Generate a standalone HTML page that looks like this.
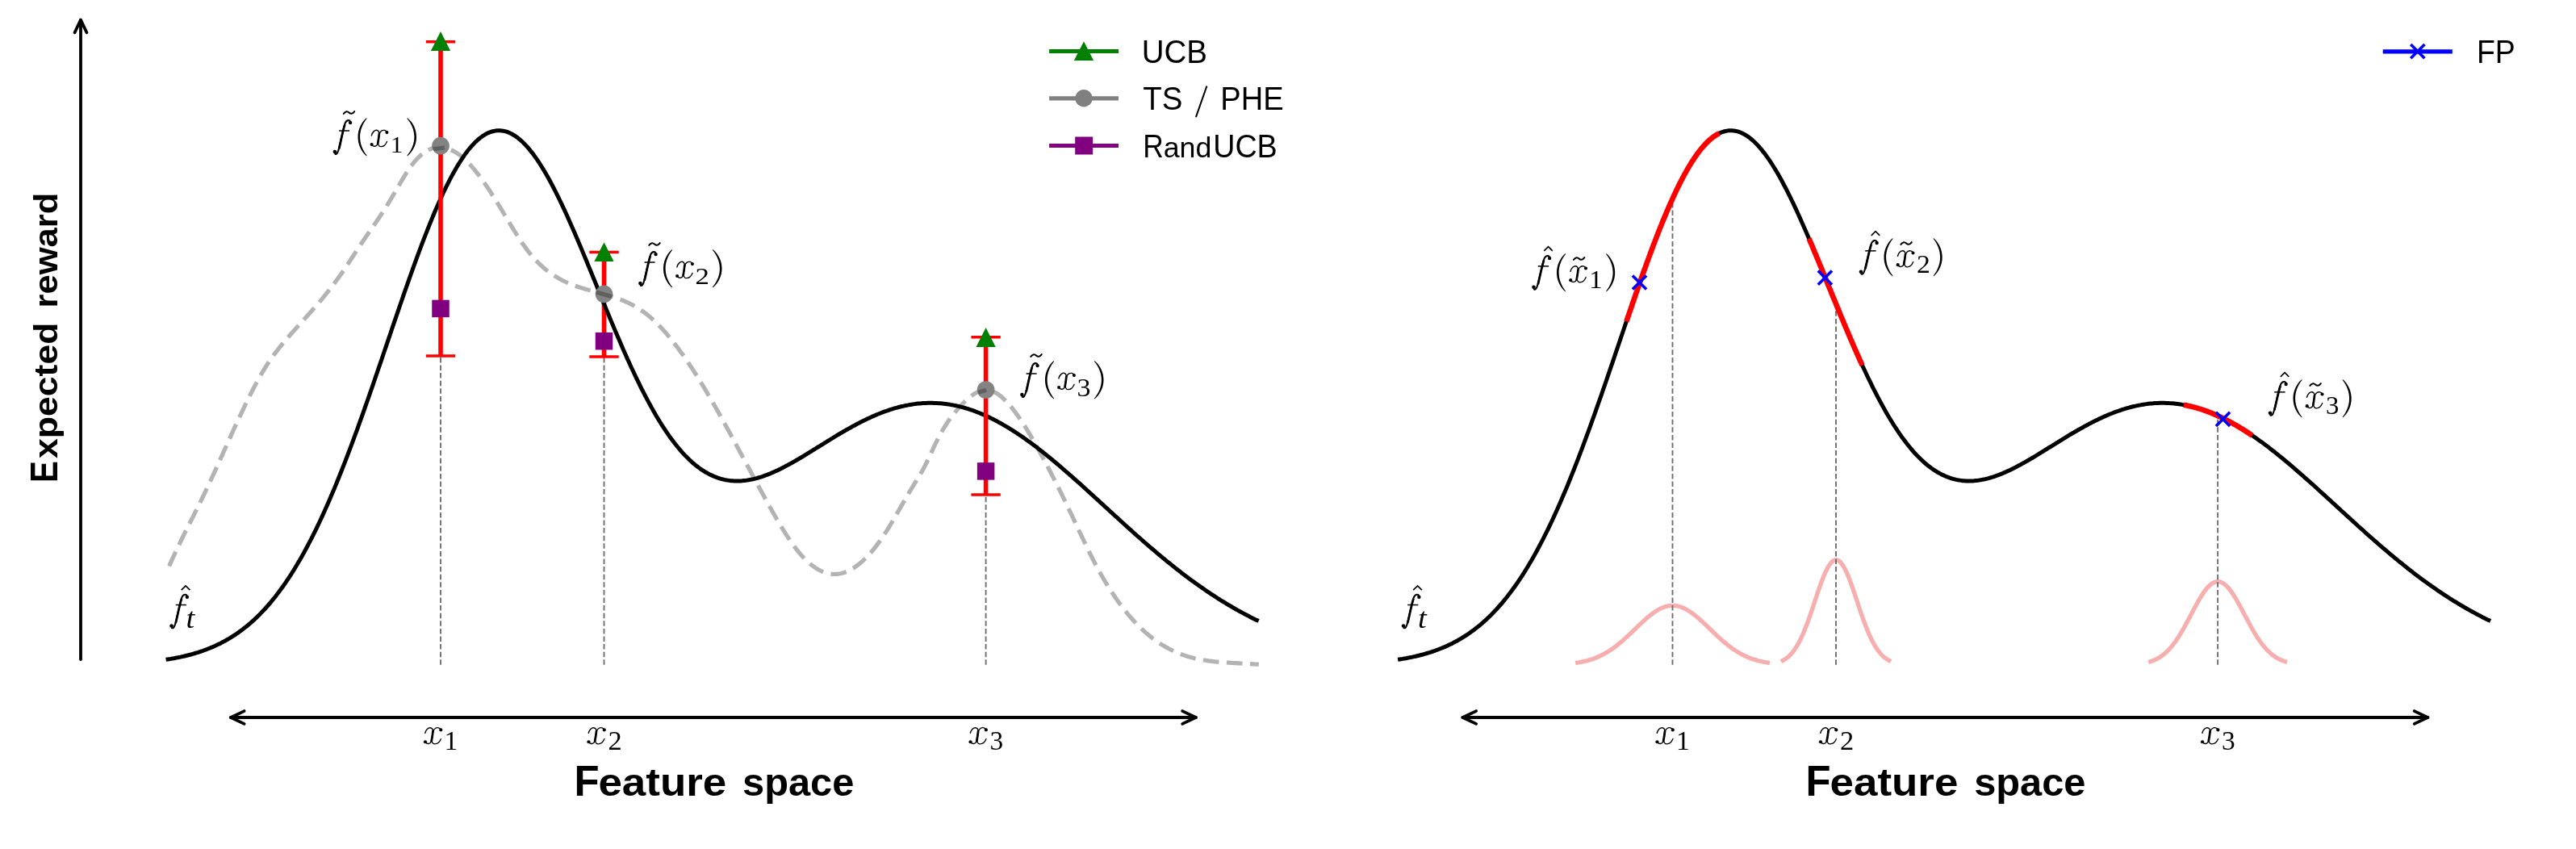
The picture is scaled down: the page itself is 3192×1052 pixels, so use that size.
<!DOCTYPE html><html><head><meta charset="utf-8"><style>html,body{margin:0;padding:0;background:#fff;}svg{display:block;} text{font-kerning:none;}</style></head><body>
<svg width="3192" height="1052" viewBox="0 0 3192 1052">
<rect width="3192" height="1052" fill="#fff"/>
<g stroke="#000" stroke-width="3.8" fill="none" stroke-linecap="round" stroke-linejoin="round">
<path d="M100,817 L100,25"/><path d="M92.6,40.3 L100,24.6 L107.4,40.3"/>
<path d="M285.8,889 L1482,889"/>
<path d="M302.6,881.1 L286,889 L302.6,896.9"/>
<path d="M1465.2,881.1 L1481.8,889 L1465.2,896.9"/>
<path d="M1812.3,889 L3008.5,889"/>
<path d="M1829.1,881.1 L1812.5,889 L1829.1,896.9"/>
<path d="M2991.7,881.1 L3008.3,889 L2991.7,896.9"/>
</g>
<path d="M546.0,823.8 L546.0,440.9" stroke="#6e6e6e" stroke-width="1.9" stroke-dasharray="6.5,3.1" fill="none"/>
<path d="M748.5,823.8 L748.5,442.0" stroke="#6e6e6e" stroke-width="1.9" stroke-dasharray="6.5,3.1" fill="none"/>
<path d="M1221.6,823.8 L1221.6,613.0" stroke="#6e6e6e" stroke-width="1.9" stroke-dasharray="6.5,3.1" fill="none"/>
<path d="M209.0,703.0 L211.0,698.4 L213.0,693.9 L215.0,689.5 L217.0,685.2 L219.0,680.9 L221.0,676.7 L223.0,672.6 L225.0,668.5 L227.0,664.4 L229.0,660.4 L231.0,656.4 L233.0,652.4 L235.0,648.5 L237.0,644.5 L239.0,640.6 L241.0,636.6 L243.0,632.6 L245.0,628.6 L247.0,624.6 L249.0,620.6 L251.0,616.5 L253.0,612.3 L255.0,608.2 L257.0,603.9 L259.0,599.7 L261.0,595.4 L263.0,591.0 L265.0,586.7 L267.0,582.3 L269.0,577.9 L271.0,573.5 L273.0,569.0 L275.0,564.6 L277.0,560.2 L279.0,555.7 L281.0,551.3 L283.0,546.8 L285.0,542.4 L287.0,537.9 L289.0,533.5 L291.0,529.1 L293.0,524.7 L295.1,520.4 L297.1,516.1 L299.1,511.8 L301.1,507.6 L303.1,503.4 L305.1,499.2 L307.1,495.1 L309.1,491.1 L311.1,487.1 L313.1,483.2 L315.1,479.4 L317.1,475.6 L319.1,471.9 L321.1,468.3 L323.1,464.8 L325.1,461.4 L327.1,458.1 L329.1,454.8 L331.1,451.7 L333.1,448.7 L335.1,445.8 L337.1,442.9 L339.1,440.1 L341.1,437.4 L343.1,434.8 L345.1,432.2 L347.1,429.7 L349.1,427.2 L351.1,424.8 L353.1,422.4 L355.1,420.1 L357.1,417.8 L359.1,415.5 L361.1,413.2 L363.1,411.0 L365.1,408.8 L367.1,406.5 L369.1,404.3 L371.1,402.1 L373.1,399.9 L375.1,397.7 L377.1,395.4 L379.1,393.2 L381.1,391.0 L383.1,388.8 L385.1,386.5 L387.1,384.2 L389.1,382.0 L391.1,379.7 L393.1,377.4 L395.1,375.0 L397.1,372.7 L399.1,370.3 L401.1,367.9 L403.1,365.4 L405.1,362.9 L407.1,360.4 L409.1,357.9 L411.1,355.3 L413.1,352.7 L415.1,350.0 L417.1,347.3 L419.1,344.5 L421.1,341.7 L423.1,338.9 L425.1,336.0 L427.1,333.0 L429.1,330.1 L431.1,327.1 L433.1,324.1 L435.1,321.0 L437.1,318.0 L439.1,314.9 L441.1,311.9 L443.1,308.9 L445.1,305.8 L447.1,302.8 L449.1,299.8 L451.1,296.9 L453.1,293.9 L455.1,291.0 L457.1,288.1 L459.1,285.2 L461.1,282.3 L463.2,279.4 L465.2,276.4 L467.2,273.5 L469.2,270.5 L471.2,267.6 L473.2,264.5 L475.2,261.5 L477.2,258.4 L479.2,255.2 L481.2,252.0 L483.2,248.7 L485.2,245.3 L487.2,241.9 L489.2,238.5 L491.2,235.1 L493.2,231.6 L495.2,228.2 L497.2,224.8 L499.2,221.4 L501.2,218.1 L503.2,214.9 L505.2,211.9 L507.2,208.9 L509.2,206.0 L511.2,203.4 L513.2,200.9 L515.2,198.5 L517.2,196.4 L519.2,194.4 L521.2,192.5 L523.2,190.8 L525.2,189.3 L527.2,188.0 L529.2,186.7 L531.2,185.7 L533.2,184.8 L535.2,184.0 L537.2,183.4 L539.2,183.0 L541.2,182.6 L543.2,182.5 L545.2,182.4 L547.2,182.5 L549.2,182.7 L551.2,183.1 L553.2,183.6 L555.2,184.2 L557.2,184.9 L559.2,185.8 L561.2,186.8 L563.2,187.8 L565.2,189.1 L567.2,190.4 L569.2,191.8 L571.2,193.4 L573.2,195.0 L575.2,196.8 L577.2,198.6 L579.2,200.6 L581.2,202.7 L583.2,204.8 L585.2,207.1 L587.2,209.4 L589.2,211.8 L591.2,214.4 L593.2,216.9 L595.2,219.6 L597.2,222.3 L599.2,225.1 L601.2,228.0 L603.2,230.9 L605.2,233.9 L607.2,237.0 L609.2,240.1 L611.2,243.2 L613.2,246.4 L615.2,249.6 L617.2,252.8 L619.2,256.1 L621.2,259.4 L623.2,262.8 L625.2,266.1 L627.2,269.4 L629.2,272.8 L631.3,276.1 L633.3,279.4 L635.3,282.7 L637.3,286.0 L639.3,289.2 L641.3,292.4 L643.3,295.5 L645.3,298.5 L647.3,301.5 L649.3,304.3 L651.3,307.1 L653.3,309.8 L655.3,312.4 L657.3,314.9 L659.3,317.3 L661.3,319.6 L663.3,321.8 L665.3,323.9 L667.3,325.9 L669.3,327.8 L671.3,329.7 L673.3,331.5 L675.3,333.2 L677.3,334.8 L679.3,336.3 L681.3,337.8 L683.3,339.3 L685.3,340.6 L687.3,341.9 L689.3,343.1 L691.3,344.3 L693.3,345.5 L695.3,346.5 L697.3,347.6 L699.3,348.5 L701.3,349.5 L703.3,350.4 L705.3,351.2 L707.3,352.1 L709.3,352.9 L711.3,353.6 L713.3,354.3 L715.3,355.0 L717.3,355.7 L719.3,356.4 L721.3,357.0 L723.3,357.6 L725.3,358.2 L727.3,358.8 L729.3,359.3 L731.3,359.9 L733.3,360.4 L735.3,361.0 L737.3,361.5 L739.3,362.0 L741.3,362.6 L743.3,363.1 L745.3,363.6 L747.3,364.2 L749.3,364.7 L751.3,365.3 L753.3,365.9 L755.3,366.5 L757.3,367.1 L759.3,367.7 L761.3,368.4 L763.3,369.1 L765.3,369.8 L767.3,370.5 L769.3,371.3 L771.3,372.1 L773.3,372.9 L775.3,373.8 L777.3,374.7 L779.3,375.6 L781.3,376.6 L783.3,377.6 L785.3,378.7 L787.3,379.9 L789.3,381.1 L791.3,382.3 L793.3,383.6 L795.3,385.0 L797.3,386.4 L799.3,387.9 L801.4,389.4 L803.4,391.0 L805.4,392.7 L807.4,394.4 L809.4,396.2 L811.4,398.1 L813.4,400.1 L815.4,402.0 L817.4,404.1 L819.4,406.2 L821.4,408.4 L823.4,410.6 L825.4,412.9 L827.4,415.3 L829.4,417.7 L831.4,420.1 L833.4,422.6 L835.4,425.2 L837.4,427.8 L839.4,430.4 L841.4,433.1 L843.4,435.9 L845.4,438.6 L847.4,441.5 L849.4,444.4 L851.4,447.3 L853.4,450.3 L855.4,453.3 L857.4,456.3 L859.4,459.4 L861.4,462.5 L863.4,465.7 L865.4,468.9 L867.4,472.1 L869.4,475.3 L871.4,478.6 L873.4,482.0 L875.4,485.3 L877.4,488.7 L879.4,492.1 L881.4,495.6 L883.4,499.0 L885.4,502.5 L887.4,506.0 L889.4,509.6 L891.4,513.1 L893.4,516.7 L895.4,520.3 L897.4,523.9 L899.4,527.5 L901.4,531.2 L903.4,534.8 L905.4,538.5 L907.4,542.2 L909.4,545.9 L911.4,549.5 L913.4,553.3 L915.4,557.0 L917.4,560.7 L919.4,564.4 L921.4,568.1 L923.4,571.9 L925.4,575.6 L927.4,579.3 L929.4,583.0 L931.4,586.8 L933.4,590.5 L935.4,594.2 L937.4,597.9 L939.4,601.6 L941.4,605.3 L943.4,609.0 L945.4,612.6 L947.4,616.3 L949.4,619.9 L951.4,623.5 L953.4,627.2 L955.4,630.7 L957.4,634.3 L959.4,637.8 L961.4,641.3 L963.4,644.8 L965.4,648.2 L967.4,651.6 L969.5,654.9 L971.5,658.1 L973.5,661.3 L975.5,664.4 L977.5,667.5 L979.5,670.4 L981.5,673.3 L983.5,676.1 L985.5,678.8 L987.5,681.4 L989.5,683.9 L991.5,686.3 L993.5,688.5 L995.5,690.7 L997.5,692.8 L999.5,694.8 L1001.5,696.6 L1003.5,698.4 L1005.5,700.0 L1007.5,701.5 L1009.5,702.9 L1011.5,704.3 L1013.5,705.5 L1015.5,706.5 L1017.5,707.5 L1019.5,708.4 L1021.5,709.2 L1023.5,709.8 L1025.5,710.4 L1027.5,710.8 L1029.5,711.1 L1031.5,711.3 L1033.5,711.4 L1035.5,711.4 L1037.5,711.3 L1039.5,711.0 L1041.5,710.7 L1043.5,710.2 L1045.5,709.6 L1047.5,709.0 L1049.5,708.2 L1051.5,707.3 L1053.5,706.3 L1055.5,705.2 L1057.5,704.0 L1059.5,702.7 L1061.5,701.2 L1063.5,699.7 L1065.5,698.1 L1067.5,696.4 L1069.5,694.6 L1071.5,692.7 L1073.5,690.7 L1075.5,688.6 L1077.5,686.4 L1079.5,684.2 L1081.5,681.8 L1083.5,679.3 L1085.5,676.8 L1087.5,674.1 L1089.5,671.4 L1091.5,668.6 L1093.5,665.7 L1095.5,662.8 L1097.5,659.7 L1099.5,656.6 L1101.5,653.3 L1103.5,650.0 L1105.5,646.7 L1107.5,643.3 L1109.5,639.9 L1111.5,636.4 L1113.5,632.9 L1115.5,629.4 L1117.5,625.9 L1119.5,622.4 L1121.5,618.9 L1123.5,615.5 L1125.5,612.0 L1127.5,608.6 L1129.5,605.3 L1131.5,602.1 L1133.5,598.8 L1135.5,595.6 L1137.5,592.3 L1139.6,589.0 L1141.6,585.6 L1143.6,582.0 L1145.6,578.2 L1147.6,574.3 L1149.6,570.2 L1151.6,566.0 L1153.6,561.7 L1155.6,557.4 L1157.6,553.2 L1159.6,549.0 L1161.6,545.0 L1163.6,541.1 L1165.6,537.4 L1167.6,533.8 L1169.6,530.4 L1171.6,527.2 L1173.6,524.1 L1175.6,521.1 L1177.6,518.3 L1179.6,515.7 L1181.6,513.1 L1183.6,510.7 L1185.6,508.3 L1187.6,506.0 L1189.6,503.8 L1191.6,501.6 L1193.6,499.5 L1195.6,497.5 L1197.6,495.6 L1199.6,493.8 L1201.6,492.1 L1203.6,490.6 L1205.6,489.1 L1207.6,487.8 L1209.6,486.7 L1211.6,485.6 L1213.6,484.8 L1215.6,484.1 L1217.6,483.6 L1219.6,483.3 L1221.6,483.2 L1223.6,483.3 L1225.6,483.5 L1227.6,484.0 L1229.6,484.7 L1231.6,485.5 L1233.6,486.6 L1235.6,487.7 L1237.6,489.1 L1239.6,490.6 L1241.6,492.3 L1243.6,494.1 L1245.6,496.0 L1247.6,498.1 L1249.6,500.3 L1251.6,502.6 L1253.6,505.0 L1255.6,507.6 L1257.6,510.2 L1259.6,512.9 L1261.6,515.7 L1263.6,518.6 L1265.6,521.6 L1267.6,524.6 L1269.6,527.7 L1271.6,530.9 L1273.6,534.2 L1275.6,537.5 L1277.6,540.9 L1279.6,544.3 L1281.6,547.8 L1283.6,551.3 L1285.6,554.9 L1287.6,558.5 L1289.6,562.2 L1291.6,565.9 L1293.6,569.6 L1295.6,573.4 L1297.6,577.1 L1299.6,581.0 L1301.6,584.8 L1303.6,588.7 L1305.6,592.6 L1307.7,596.6 L1309.7,600.5 L1311.7,604.5 L1313.7,608.6 L1315.7,612.7 L1317.7,616.8 L1319.7,620.9 L1321.7,625.0 L1323.7,629.2 L1325.7,633.5 L1327.7,637.7 L1329.7,641.9 L1331.7,646.2 L1333.7,650.5 L1335.7,654.7 L1337.7,659.0 L1339.7,663.2 L1341.7,667.4 L1343.7,671.6 L1345.7,675.8 L1347.7,679.9 L1349.7,684.0 L1351.7,688.0 L1353.7,692.0 L1355.7,695.8 L1357.7,699.7 L1359.7,703.4 L1361.7,707.1 L1363.7,710.7 L1365.7,714.2 L1367.7,717.6 L1369.7,721.0 L1371.7,724.3 L1373.7,727.6 L1375.7,730.7 L1377.7,733.8 L1379.7,736.8 L1381.7,739.8 L1383.7,742.7 L1385.7,745.5 L1387.7,748.3 L1389.7,750.9 L1391.7,753.6 L1393.7,756.1 L1395.7,758.6 L1397.7,761.1 L1399.7,763.4 L1401.7,765.7 L1403.7,768.0 L1405.7,770.2 L1407.7,772.3 L1409.7,774.4 L1411.7,776.4 L1413.7,778.3 L1415.7,780.2 L1417.7,782.1 L1419.7,783.9 L1421.7,785.6 L1423.7,787.3 L1425.7,788.9 L1427.7,790.5 L1429.7,792.0 L1431.7,793.5 L1433.7,794.9 L1435.7,796.3 L1437.7,797.6 L1439.7,798.9 L1441.7,800.1 L1443.7,801.3 L1445.7,802.4 L1447.7,803.5 L1449.7,804.5 L1451.7,805.5 L1453.7,806.5 L1455.7,807.4 L1457.7,808.3 L1459.7,809.1 L1461.7,809.9 L1463.7,810.7 L1465.7,811.4 L1467.7,812.1 L1469.7,812.8 L1471.7,813.4 L1473.7,814.0 L1475.8,814.5 L1477.8,815.1 L1479.8,815.6 L1481.8,816.0 L1483.8,816.5 L1485.8,816.9 L1487.8,817.3 L1489.8,817.7 L1491.8,818.0 L1493.8,818.3 L1495.8,818.6 L1497.8,818.9 L1499.8,819.2 L1501.8,819.4 L1503.8,819.7 L1505.8,819.9 L1507.8,820.1 L1509.8,820.2 L1511.8,820.4 L1513.8,820.6 L1515.8,820.7 L1517.8,820.9 L1519.8,821.0 L1521.8,821.1 L1523.8,821.2 L1525.8,821.4 L1527.8,821.5 L1529.8,821.6 L1531.8,821.7 L1533.8,821.8 L1535.8,821.9 L1537.8,822.0 L1539.8,822.1 L1541.8,822.2 L1543.8,822.3 L1545.8,822.4 L1547.8,822.5 L1549.8,822.6 L1551.8,822.8 L1553.8,822.9 L1555.8,823.0 L1557.8,823.2 L1559.8,823.4" stroke="#b3b3b3" stroke-width="5.2" stroke-dasharray="19.60,9.54,19.60,9.54,19.60,9.54,19.60,9.54,19.60,9.54,19.60,9.54,19.60,9.54,19.60,9.54,19.60,9.54,19.60,9.54,19.60,9.54,19.60,9.54,19.60,9.54,19.60,9.54,19.60,9.54,19.60,9.54,19.60,9.54,19.60,9.54,19.60,9.54,19.60,9.52,19.60,9.52,19.60,9.52,19.60,9.52,19.60,9.52,19.60,9.52,19.60,9.52,19.60,9.52,19.60,9.52,19.60,9.52,19.60,9.52,19.60,9.52,19.60,9.52,19.60,9.52,19.60,9.52,19.60,9.52,19.60,9.52,19.60,9.64,19.60,9.64,19.60,9.64,19.60,9.64,19.60,9.64,19.60,9.64,19.60,9.64,19.60,9.64,19.60,9.64,19.60,9.64,19.60,9.64,19.60,9.64,19.60,9.40,19.60,9.40,19.60,9.40,19.60,9.40,19.60,9.40,19.60,9.40,19.60,9.48,19.60,9.48,19.60,9.48,19.60,9.48,19.60,9.48,19.60,9.48,19.60,9.48,19.60,9.48,19.60,9.48,19.60,9.56,19.60,9.56,19.60,9.56,19.60,9.56,19.60,9.56,19.60,9.56,19.60,9.56,19.60,9.56,19.60,9.56,19.60,9.56,19.60,9.56,19.60,9.56,19.60,9.56,19.60,9.56" stroke-dashoffset="27.54" fill="none" stroke-linecap="butt"/>
<path d="M748.5,312.6 L748.5,442.0" stroke="#ff0000" stroke-width="5.6" fill="none"/><path d="M730.3,312.6 L766.7,312.6 M730.3,442.0 L766.7,442.0" stroke="#ff0000" stroke-width="3.5" fill="none"/>
<path d="M205.6,817.3 L207.6,817.0 L209.6,816.7 L211.6,816.4 L213.6,816.0 L215.6,815.7 L217.6,815.3 L219.6,814.9 L221.6,814.5 L223.6,814.1 L225.6,813.6 L227.6,813.2 L229.6,812.7 L231.6,812.2 L233.6,811.7 L235.6,811.2 L237.6,810.7 L239.6,810.1 L241.6,809.5 L243.6,808.9 L245.6,808.3 L247.6,807.6 L249.6,807.0 L251.6,806.3 L253.6,805.5 L255.6,804.8 L257.6,804.0 L259.6,803.2 L261.6,802.4 L263.6,801.6 L265.6,800.7 L267.6,799.8 L269.6,798.8 L271.6,797.9 L273.6,796.9 L275.6,795.8 L277.6,794.8 L279.6,793.7 L281.6,792.5 L283.6,791.4 L285.6,790.2 L287.6,788.9 L289.6,787.6 L291.6,786.3 L293.6,785.0 L295.6,783.6 L297.6,782.1 L299.6,780.7 L301.6,779.1 L303.6,777.6 L305.6,776.0 L307.6,774.3 L309.6,772.6 L311.6,770.9 L313.6,769.1 L315.6,767.3 L317.6,765.4 L319.6,763.4 L321.6,761.5 L323.6,759.4 L325.6,757.3 L327.6,755.2 L329.6,753.0 L331.6,750.8 L333.6,748.5 L335.6,746.1 L337.6,743.7 L339.6,741.2 L341.6,738.7 L343.6,736.1 L345.6,733.5 L347.6,730.8 L349.6,728.0 L351.6,725.2 L353.6,722.4 L355.6,719.4 L357.6,716.4 L359.6,713.4 L361.6,710.2 L363.6,707.1 L365.6,703.8 L367.6,700.5 L369.6,697.1 L371.6,693.7 L373.6,690.2 L375.6,686.6 L377.6,683.0 L379.6,679.3 L381.6,675.5 L383.6,671.7 L385.6,667.8 L387.6,663.9 L389.6,659.9 L391.6,655.8 L393.6,651.7 L395.6,647.5 L397.6,643.2 L399.6,638.9 L401.6,634.5 L403.6,630.0 L405.6,625.5 L407.6,620.9 L409.6,616.3 L411.6,611.6 L413.6,606.9 L415.6,602.1 L417.6,597.2 L419.6,592.3 L421.6,587.3 L423.6,582.3 L425.6,577.2 L427.6,572.1 L429.6,566.9 L431.6,561.6 L433.6,556.4 L435.6,551.0 L437.6,545.7 L439.6,540.2 L441.6,534.8 L443.6,529.3 L445.6,523.7 L447.6,518.2 L449.6,512.6 L451.6,506.9 L453.6,501.2 L455.6,495.5 L457.6,489.8 L459.6,484.0 L461.6,478.3 L463.6,472.5 L465.6,466.6 L467.6,460.8 L469.6,454.9 L471.6,449.1 L473.6,443.2 L475.6,437.3 L477.6,431.4 L479.6,425.5 L481.6,419.6 L483.6,413.7 L485.6,407.8 L487.6,401.9 L489.6,396.1 L491.6,390.2 L493.6,384.4 L495.6,378.5 L497.6,372.7 L499.6,366.9 L501.6,361.2 L503.6,355.5 L505.6,349.8 L507.6,344.1 L509.6,338.5 L511.6,332.9 L513.6,327.4 L515.6,321.9 L517.6,316.4 L519.6,311.0 L521.6,305.7 L523.6,300.4 L525.6,295.2 L527.6,290.1 L529.6,285.0 L531.6,279.9 L533.6,275.0 L535.6,270.1 L537.6,265.3 L539.6,260.6 L541.6,256.0 L543.6,251.4 L545.6,247.0 L547.6,242.6 L549.6,238.3 L551.6,234.1 L553.6,230.1 L555.6,226.1 L557.6,222.2 L559.6,218.4 L561.6,214.7 L563.6,211.2 L565.6,207.7 L567.6,204.4 L569.6,201.2 L571.6,198.1 L573.6,195.1 L575.6,192.2 L577.6,189.4 L579.6,186.8 L581.6,184.3 L583.6,181.9 L585.6,179.7 L587.6,177.6 L589.6,175.6 L591.6,173.7 L593.6,172.0 L595.6,170.4 L597.6,168.9 L599.6,167.6 L601.6,166.4 L603.6,165.3 L605.6,164.4 L607.6,163.6 L609.6,163.0 L611.6,162.5 L613.6,162.1 L615.6,161.8 L617.6,161.7 L619.6,161.7 L621.6,161.9 L623.6,162.2 L625.6,162.6 L627.6,163.2 L629.6,163.9 L631.6,164.7 L633.6,165.7 L635.6,166.8 L637.6,168.0 L639.6,169.4 L641.6,170.8 L643.6,172.5 L645.6,174.2 L647.6,176.0 L649.6,178.0 L651.6,180.1 L653.6,182.3 L655.6,184.6 L657.6,187.1 L659.6,189.6 L661.6,192.3 L663.6,195.1 L665.6,197.9 L667.6,200.9 L669.6,204.0 L671.6,207.2 L673.6,210.4 L675.6,213.8 L677.6,217.3 L679.6,220.8 L681.6,224.5 L683.6,228.2 L685.6,232.0 L687.6,235.9 L689.6,239.8 L691.6,243.9 L693.6,248.0 L695.6,252.1 L697.6,256.4 L699.6,260.6 L701.6,265.0 L703.6,269.4 L705.6,273.9 L707.6,278.4 L709.6,282.9 L711.6,287.5 L713.6,292.2 L715.6,296.8 L717.6,301.6 L719.6,306.3 L721.6,311.1 L723.6,315.9 L725.6,320.7 L727.6,325.5 L729.6,330.4 L731.6,335.3 L733.6,340.1 L735.6,345.0 L737.6,349.9 L739.6,354.8 L741.6,359.7 L743.6,364.6 L745.6,369.5 L747.6,374.4 L749.6,379.2 L751.6,384.1 L753.6,388.9 L755.6,393.8 L757.6,398.6 L759.6,403.3 L761.6,408.1 L763.6,412.8 L765.6,417.5 L767.6,422.1 L769.6,426.8 L771.6,431.4 L773.6,435.9 L775.6,440.4 L777.6,444.9 L779.6,449.3 L781.6,453.7 L783.6,458.0 L785.6,462.2 L787.6,466.5 L789.6,470.6 L791.6,474.7 L793.6,478.8 L795.6,482.8 L797.6,486.7 L799.6,490.6 L801.6,494.4 L803.6,498.1 L805.6,501.8 L807.6,505.4 L809.6,509.0 L811.6,512.5 L813.6,515.9 L815.6,519.2 L817.6,522.5 L819.6,525.7 L821.6,528.9 L823.6,531.9 L825.6,534.9 L827.6,537.8 L829.6,540.7 L831.6,543.4 L833.6,546.1 L835.6,548.8 L837.6,551.3 L839.6,553.8 L841.6,556.2 L843.6,558.5 L845.6,560.8 L847.6,563.0 L849.6,565.1 L851.6,567.1 L853.6,569.1 L855.6,570.9 L857.6,572.8 L859.6,574.5 L861.6,576.2 L863.6,577.7 L865.6,579.3 L867.6,580.7 L869.6,582.1 L871.6,583.4 L873.6,584.7 L875.6,585.8 L877.6,586.9 L879.6,588.0 L881.6,588.9 L883.6,589.8 L885.6,590.7 L887.6,591.4 L889.6,592.2 L891.6,592.8 L893.6,593.4 L895.6,593.9 L897.6,594.4 L899.6,594.8 L901.6,595.1 L903.6,595.4 L905.6,595.7 L907.6,595.8 L909.6,596.0 L911.6,596.0 L913.6,596.0 L915.6,596.0 L917.6,595.9 L919.6,595.8 L921.6,595.6 L923.6,595.4 L925.6,595.1 L927.6,594.8 L929.6,594.4 L931.6,594.0 L933.6,593.6 L935.6,593.1 L937.6,592.6 L939.6,592.0 L941.6,591.4 L943.6,590.8 L945.6,590.1 L947.6,589.4 L949.6,588.7 L951.6,587.9 L953.6,587.1 L955.6,586.3 L957.6,585.4 L959.6,584.5 L961.6,583.6 L963.6,582.7 L965.6,581.7 L967.6,580.7 L969.6,579.7 L971.6,578.7 L973.6,577.6 L975.6,576.6 L977.6,575.5 L979.6,574.4 L981.6,573.3 L983.6,572.1 L985.6,571.0 L987.6,569.8 L989.6,568.7 L991.6,567.5 L993.6,566.3 L995.6,565.1 L997.6,563.9 L999.6,562.7 L1001.6,561.4 L1003.6,560.2 L1005.6,559.0 L1007.6,557.7 L1009.6,556.5 L1011.6,555.2 L1013.6,554.0 L1015.6,552.8 L1017.6,551.5 L1019.6,550.3 L1021.6,549.0 L1023.6,547.8 L1025.6,546.5 L1027.6,545.3 L1029.6,544.1 L1031.6,542.9 L1033.6,541.6 L1035.6,540.4 L1037.6,539.2 L1039.6,538.0 L1041.6,536.8 L1043.6,535.7 L1045.6,534.5 L1047.6,533.3 L1049.6,532.2 L1051.6,531.1 L1053.6,530.0 L1055.6,528.8 L1057.6,527.8 L1059.6,526.7 L1061.6,525.6 L1063.6,524.6 L1065.6,523.5 L1067.6,522.5 L1069.6,521.5 L1071.6,520.5 L1073.6,519.6 L1075.6,518.6 L1077.6,517.7 L1079.6,516.8 L1081.6,515.9 L1083.6,515.0 L1085.6,514.1 L1087.6,513.3 L1089.6,512.5 L1091.6,511.7 L1093.6,510.9 L1095.6,510.2 L1097.6,509.5 L1099.6,508.8 L1101.6,508.1 L1103.6,507.4 L1105.6,506.8 L1107.6,506.2 L1109.6,505.6 L1111.6,505.1 L1113.6,504.5 L1115.6,504.0 L1117.6,503.5 L1119.6,503.1 L1121.6,502.6 L1123.6,502.2 L1125.6,501.9 L1127.6,501.5 L1129.6,501.2 L1131.6,500.9 L1133.6,500.6 L1135.6,500.3 L1137.6,500.1 L1139.6,499.9 L1141.6,499.8 L1143.6,499.6 L1145.6,499.5 L1147.6,499.4 L1149.6,499.3 L1151.6,499.3 L1153.6,499.3 L1155.6,499.3 L1157.6,499.4 L1159.6,499.4 L1161.6,499.6 L1163.6,499.7 L1165.6,499.8 L1167.6,500.0 L1169.6,500.2 L1171.6,500.5 L1173.6,500.8 L1175.6,501.0 L1177.6,501.4 L1179.6,501.7 L1181.6,502.1 L1183.6,502.5 L1185.6,502.9 L1187.6,503.4 L1189.6,503.9 L1191.6,504.4 L1193.6,504.9 L1195.6,505.5 L1197.6,506.1 L1199.6,506.7 L1201.6,507.4 L1203.6,508.0 L1205.6,508.7 L1207.6,509.4 L1209.6,510.2 L1211.6,511.0 L1213.6,511.8 L1215.6,512.6 L1217.6,513.4 L1219.6,514.3 L1221.6,515.2 L1223.6,516.1 L1225.6,517.1 L1227.6,518.0 L1229.6,519.0 L1231.6,520.0 L1233.6,521.1 L1235.6,522.1 L1237.6,523.2 L1239.6,524.3 L1241.6,525.4 L1243.6,526.6 L1245.6,527.8 L1247.6,528.9 L1249.6,530.2 L1251.6,531.4 L1253.6,532.6 L1255.6,533.9 L1257.6,535.2 L1259.6,536.5 L1261.6,537.8 L1263.6,539.2 L1265.6,540.5 L1267.6,541.9 L1269.6,543.3 L1271.6,544.7 L1273.6,546.2 L1275.6,547.6 L1277.6,549.1 L1279.6,550.6 L1281.6,552.1 L1283.6,553.6 L1285.6,555.1 L1287.6,556.7 L1289.6,558.2 L1291.6,559.8 L1293.6,561.4 L1295.6,563.0 L1297.6,564.6 L1299.6,566.2 L1301.6,567.8 L1303.6,569.5 L1305.6,571.2 L1307.6,572.8 L1309.6,574.5 L1311.6,576.2 L1313.6,577.9 L1315.6,579.6 L1317.6,581.3 L1319.6,583.1 L1321.6,584.8 L1323.6,586.5 L1325.6,588.3 L1327.6,590.0 L1329.6,591.8 L1331.6,593.6 L1333.6,595.4 L1335.6,597.2 L1337.6,598.9 L1339.6,600.7 L1341.6,602.5 L1343.6,604.3 L1345.6,606.2 L1347.6,608.0 L1349.6,609.8 L1351.6,611.6 L1353.6,613.4 L1355.6,615.3 L1357.6,617.1 L1359.6,618.9 L1361.6,620.7 L1363.6,622.6 L1365.6,624.4 L1367.6,626.2 L1369.6,628.1 L1371.6,629.9 L1373.6,631.7 L1375.6,633.6 L1377.6,635.4 L1379.6,637.2 L1381.6,639.1 L1383.6,640.9 L1385.6,642.7 L1387.6,644.5 L1389.6,646.4 L1391.6,648.2 L1393.6,650.0 L1395.6,651.8 L1397.6,653.6 L1399.6,655.4 L1401.6,657.2 L1403.6,659.0 L1405.6,660.8 L1407.6,662.6 L1409.6,664.3 L1411.6,666.1 L1413.6,667.9 L1415.6,669.6 L1417.6,671.4 L1419.6,673.1 L1421.6,674.8 L1423.6,676.6 L1425.6,678.3 L1427.6,680.0 L1429.6,681.7 L1431.6,683.4 L1433.6,685.1 L1435.6,686.8 L1437.6,688.5 L1439.6,690.1 L1441.6,691.8 L1443.6,693.4 L1445.6,695.1 L1447.6,696.7 L1449.6,698.3 L1451.6,699.9 L1453.6,701.5 L1455.6,703.1 L1457.6,704.7 L1459.6,706.3 L1461.6,707.8 L1463.6,709.4 L1465.6,710.9 L1467.6,712.4 L1469.6,713.9 L1471.6,715.4 L1473.6,716.9 L1475.6,718.4 L1477.6,719.9 L1479.6,721.3 L1481.6,722.8 L1483.6,724.2 L1485.6,725.6 L1487.6,727.0 L1489.6,728.4 L1491.6,729.8 L1493.6,731.2 L1495.6,732.6 L1497.6,733.9 L1499.6,735.3 L1501.6,736.6 L1503.6,737.9 L1505.6,739.2 L1507.6,740.5 L1509.6,741.8 L1511.6,743.0 L1513.6,744.3 L1515.6,745.5 L1517.6,746.7 L1519.6,748.0 L1521.6,749.2 L1523.6,750.3 L1525.6,751.5 L1527.6,752.7 L1529.6,753.8 L1531.6,755.0 L1533.6,756.1 L1535.6,757.2 L1537.6,758.3 L1539.6,759.4 L1541.6,760.5 L1543.6,761.5 L1545.6,762.6 L1547.6,763.6 L1549.6,764.7 L1551.6,765.7 L1553.6,766.7 L1555.6,767.7 L1557.6,768.6 L1559.6,769.6" stroke="#000" stroke-width="5.0" fill="none" stroke-linecap="butt" stroke-linejoin="round"/>
<path d="M546.0,51.8 L546.0,440.9" stroke="#ff0000" stroke-width="5.6" fill="none"/><path d="M527.8,51.8 L564.2,51.8 M527.8,440.9 L564.2,440.9" stroke="#ff0000" stroke-width="3.5" fill="none"/>
<path d="M1221.6,417.8 L1221.6,613.0" stroke="#ff0000" stroke-width="5.6" fill="none"/><path d="M1203.3999999999999,417.8 L1239.8,417.8 M1203.3999999999999,613.0 L1239.8,613.0" stroke="#ff0000" stroke-width="3.5" fill="none"/>
<rect x="535.25" y="371.65" width="21.5" height="21.5" fill="#800080"/>
<circle cx="546.0" cy="180.6" r="10.85" fill="#838383"/>
<clipPath id="cc546"><circle cx="546.0" cy="180.6" r="10.3"/></clipPath>
<path d="M532.0,185.3 L551.0,183.0" stroke="#5f5f5f" stroke-width="5.2" clip-path="url(#cc546)"/>
<path d="M546.0,39.10 L558.10,62.90 L533.90,62.90 Z" fill="#008000"/>
<rect x="737.75" y="411.95" width="21.5" height="21.5" fill="#800080"/>
<circle cx="748.5" cy="364.3" r="10.85" fill="#838383"/>
<clipPath id="cc748"><circle cx="748.5" cy="364.3" r="10.3"/></clipPath>
<path d="M735.0,360.9 L762.0,368.6" stroke="#5f5f5f" stroke-width="5.2" clip-path="url(#cc748)"/>
<path d="M748.5,300.20 L760.60,324.00 L736.40,324.00 Z" fill="#008000"/>
<rect x="1210.85" y="573.15" width="21.5" height="21.5" fill="#800080"/>
<circle cx="1221.6" cy="483.0" r="10.85" fill="#838383"/>
<clipPath id="cc1221"><circle cx="1221.6" cy="483.0" r="10.3"/></clipPath>
<path d="M1208.0,487.6 L1222.0,483.2" stroke="#5f5f5f" stroke-width="5.2" clip-path="url(#cc1221)"/>
<path d="M1221.6,406.10 L1233.70,429.90 L1209.50,429.90 Z" fill="#008000"/>
<path d="M434.09,151.50 C433.79,148.50 429.77,147.80 427.76,152.30 C425.35,158.60 421.34,179.60 419.33,186.30 C418.32,189.70 417.02,191.40 415.31,190.70" fill="none" stroke="#000" stroke-width="2.1" stroke-linecap="round"/>
<path d="M427.06,155.10 C425.05,161.10 422.34,175.10 420.33,183.60" fill="none" stroke="#000" stroke-width="2.73" stroke-linecap="round"/>
<circle cx="434.09" cy="152.10" r="2.2"/>
<circle cx="414.91" cy="188.10" r="2.3"/>
<path d="M420.03,162.00 L433.09,162.00" stroke="#000" stroke-width="1.5"/>
<path d="M425.80,140.90 C428.30,137.30 430.70,137.70 432.50,139.50 S436.70,141.70 439.20,138.10" fill="none" stroke="#000" stroke-width="2.0" stroke-linecap="round"/>
<path d="M454.20,146.00 C446.80,152.65 443.50,161.20 443.50,169.75 C443.50,178.30 446.80,186.85 454.20,193.50 L454.50,192.60 C449.14,185.90 446.10,177.82 446.10,169.75 C446.10,161.68 449.14,153.60 454.50,146.90 Z" fill="#000"/>
<path d="M460.40,167.90 C461.50,163.50 464.50,161.10 466.70,161.30 C469.10,161.50 470.30,163.90 469.80,167.10 C469.20,171.50 468.50,176.50 467.70,178.70 C466.50,181.70 463.10,182.10 461.10,180.10" fill="none" stroke="#000" stroke-width="1.45" stroke-linecap="round"/>
<path d="M469.90,165.70 C469.50,169.50 468.80,174.50 468.10,177.90" fill="none" stroke="#000" stroke-width="2.70" stroke-linecap="round"/>
<path d="M479.40,163.90 C478.50,161.30 475.10,160.70 473.10,161.90 C471.70,162.80 470.70,164.30 469.90,166.30" fill="none" stroke="#000" stroke-width="1.30" stroke-linecap="round"/>
<path d="M468.40,176.70 C468.70,180.00 470.10,181.70 472.20,181.70 C475.10,181.70 478.10,179.10 479.60,175.30" fill="none" stroke="#000" stroke-width="1.30" stroke-linecap="round"/>
<circle cx="479.40" cy="164.10" r="2.05"/>
<circle cx="460.60" cy="179.00" r="2.05"/>
<g style="filter:opacity(1)"><text transform="translate(483.75,189.00) scale(1.0313,1)" font-family="Liberation Serif" font-style="normal" font-weight="normal" font-size="30.30" fill="#000">1</text></g>
<path d="M504.80,146.00 C512.55,152.65 516.00,161.20 516.00,169.75 C516.00,178.30 512.55,186.85 504.80,193.50 L504.50,192.60 C510.21,185.90 513.40,177.82 513.40,169.75 C513.40,161.68 510.21,153.60 504.50,146.90 Z" fill="#000"/>
<path d="M812.59,314.50 C812.29,311.50 808.27,310.80 806.26,315.30 C803.85,321.60 799.84,342.60 797.83,349.30 C796.82,352.70 795.52,354.40 793.81,353.70" fill="none" stroke="#000" stroke-width="2.1" stroke-linecap="round"/>
<path d="M805.56,318.10 C803.55,324.10 800.84,338.10 798.83,346.60" fill="none" stroke="#000" stroke-width="2.73" stroke-linecap="round"/>
<circle cx="812.59" cy="315.10" r="2.2"/>
<circle cx="793.41" cy="351.10" r="2.3"/>
<path d="M798.53,325.00 L811.59,325.00" stroke="#000" stroke-width="1.5"/>
<path d="M804.30,303.90 C806.80,300.30 809.20,300.70 811.00,302.50 S815.20,304.70 817.70,301.10" fill="none" stroke="#000" stroke-width="2.0" stroke-linecap="round"/>
<path d="M832.70,309.00 C825.30,315.65 822.00,324.20 822.00,332.75 C822.00,341.30 825.30,349.85 832.70,356.50 L833.00,355.60 C827.64,348.90 824.60,340.82 824.60,332.75 C824.60,324.68 827.64,316.60 833.00,309.90 Z" fill="#000"/>
<path d="M838.90,330.90 C840.00,326.50 843.00,324.10 845.20,324.30 C847.60,324.50 848.80,326.90 848.30,330.10 C847.70,334.50 847.00,339.50 846.20,341.70 C845.00,344.70 841.60,345.10 839.60,343.10" fill="none" stroke="#000" stroke-width="1.45" stroke-linecap="round"/>
<path d="M848.40,328.70 C848.00,332.50 847.30,337.50 846.60,340.90" fill="none" stroke="#000" stroke-width="2.70" stroke-linecap="round"/>
<path d="M857.90,326.90 C857.00,324.30 853.60,323.70 851.60,324.90 C850.20,325.80 849.20,327.30 848.40,329.30" fill="none" stroke="#000" stroke-width="1.30" stroke-linecap="round"/>
<path d="M846.90,339.70 C847.20,343.00 848.60,344.70 850.70,344.70 C853.60,344.70 856.60,342.10 858.10,338.30" fill="none" stroke="#000" stroke-width="1.30" stroke-linecap="round"/>
<circle cx="857.90" cy="327.10" r="2.05"/>
<circle cx="839.10" cy="342.00" r="2.05"/>
<g style="filter:opacity(1)"><text transform="translate(861.57,352.10) scale(1.1504,1)" font-family="Liberation Serif" font-style="normal" font-weight="normal" font-size="30.36" fill="#000">2</text></g>
<path d="M883.30,309.00 C891.05,315.65 894.50,324.20 894.50,332.75 C894.50,341.30 891.05,349.85 883.30,356.50 L883.00,355.60 C888.71,348.90 891.90,340.82 891.90,332.75 C891.90,324.68 888.71,316.60 883.00,309.90 Z" fill="#000"/>
<path d="M1285.59,452.50 C1285.29,449.50 1281.27,448.80 1279.26,453.30 C1276.85,459.60 1272.84,480.60 1270.83,487.30 C1269.82,490.70 1268.52,492.40 1266.81,491.70" fill="none" stroke="#000" stroke-width="2.1" stroke-linecap="round"/>
<path d="M1278.56,456.10 C1276.55,462.10 1273.84,476.10 1271.83,484.60" fill="none" stroke="#000" stroke-width="2.73" stroke-linecap="round"/>
<circle cx="1285.59" cy="453.10" r="2.2"/>
<circle cx="1266.41" cy="489.10" r="2.3"/>
<path d="M1271.53,463.00 L1284.59,463.00" stroke="#000" stroke-width="1.5"/>
<path d="M1277.30,441.90 C1279.80,438.30 1282.20,438.70 1284.00,440.50 S1288.20,442.70 1290.70,439.10" fill="none" stroke="#000" stroke-width="2.0" stroke-linecap="round"/>
<path d="M1305.70,447.00 C1298.30,453.65 1295.00,462.20 1295.00,470.75 C1295.00,479.30 1298.30,487.85 1305.70,494.50 L1306.00,493.60 C1300.64,486.90 1297.60,478.82 1297.60,470.75 C1297.60,462.68 1300.64,454.60 1306.00,447.90 Z" fill="#000"/>
<path d="M1311.90,468.90 C1313.00,464.50 1316.00,462.10 1318.20,462.30 C1320.60,462.50 1321.80,464.90 1321.30,468.10 C1320.70,472.50 1320.00,477.50 1319.20,479.70 C1318.00,482.70 1314.60,483.10 1312.60,481.10" fill="none" stroke="#000" stroke-width="1.45" stroke-linecap="round"/>
<path d="M1321.40,466.70 C1321.00,470.50 1320.30,475.50 1319.60,478.90" fill="none" stroke="#000" stroke-width="2.70" stroke-linecap="round"/>
<path d="M1330.90,464.90 C1330.00,462.30 1326.60,461.70 1324.60,462.90 C1323.20,463.80 1322.20,465.30 1321.40,467.30" fill="none" stroke="#000" stroke-width="1.30" stroke-linecap="round"/>
<path d="M1319.90,477.70 C1320.20,481.00 1321.60,482.70 1323.70,482.70 C1326.60,482.70 1329.60,480.10 1331.10,476.30" fill="none" stroke="#000" stroke-width="1.30" stroke-linecap="round"/>
<circle cx="1330.90" cy="465.10" r="2.05"/>
<circle cx="1312.10" cy="480.00" r="2.05"/>
<g style="filter:opacity(1)"><text transform="translate(1334.48,491.29) scale(1.0843,1)" font-family="Liberation Serif" font-style="normal" font-weight="normal" font-size="31.26" fill="#000">3</text></g>
<path d="M1356.30,447.00 C1364.05,453.65 1367.50,462.20 1367.50,470.75 C1367.50,479.30 1364.05,487.85 1356.30,494.50 L1356.00,493.60 C1361.71,486.90 1364.90,478.82 1364.90,470.75 C1364.90,462.68 1361.71,454.60 1356.00,447.90 Z" fill="#000"/>
<path d="M231.87,739.08 C231.57,736.10 227.52,735.40 225.49,739.88 C223.06,746.15 219.01,767.06 216.98,773.73 C215.97,777.11 214.65,778.80 212.93,778.11" fill="none" stroke="#000" stroke-width="2.1" stroke-linecap="round"/>
<path d="M224.78,742.67 C222.76,748.64 220.02,762.58 218.00,771.04" fill="none" stroke="#000" stroke-width="2.73" stroke-linecap="round"/>
<circle cx="231.87" cy="739.68" r="2.2"/>
<circle cx="212.53" cy="775.52" r="2.3"/>
<path d="M217.69,749.54 L230.86,749.54" stroke="#000" stroke-width="1.5"/>
<path d="M224.70,731.20 L230.05,725.90 L235.40,731.20" fill="none" stroke="#000" stroke-width="1.7" stroke-linejoin="miter" stroke-linecap="butt"/>
<g style="filter:opacity(1)"><text transform="translate(230.50,777.85) scale(1.0837,1)" font-family="Liberation Serif" font-style="italic" font-weight="normal" font-size="35.62" fill="#000">t</text></g>
<path d="M526.75,908.23 C527.88,903.87 530.96,901.49 533.21,901.69 C535.68,901.89 536.91,904.27 536.39,907.44 C535.78,911.80 535.06,916.75 534.24,918.93 C533.01,921.91 529.52,922.30 527.47,920.32" fill="none" stroke="#000" stroke-width="1.49" stroke-linecap="round"/>
<path d="M536.50,906.05 C536.09,909.82 535.37,914.77 534.65,918.14" fill="none" stroke="#000" stroke-width="2.77" stroke-linecap="round"/>
<path d="M546.25,904.27 C545.32,901.69 541.83,901.10 539.78,902.29 C538.34,903.18 537.32,904.67 536.50,906.65" fill="none" stroke="#000" stroke-width="1.33" stroke-linecap="round"/>
<path d="M534.96,916.95 C535.27,920.22 536.70,921.91 538.86,921.91 C541.83,921.91 544.91,919.33 546.45,915.57" fill="none" stroke="#000" stroke-width="1.33" stroke-linecap="round"/>
<circle cx="546.25" cy="904.47" r="2.10"/>
<circle cx="526.95" cy="919.23" r="2.10"/>
<g style="filter:opacity(1)"><text transform="translate(550.45,929.20) scale(0.9748,1)" font-family="Liberation Serif" font-style="normal" font-weight="normal" font-size="34.39" fill="#000">1</text></g>
<path d="M729.25,908.23 C730.38,903.87 733.46,901.49 735.71,901.69 C738.18,901.89 739.41,904.27 738.89,907.44 C738.28,911.80 737.56,916.75 736.74,918.93 C735.51,921.91 732.02,922.30 729.97,920.32" fill="none" stroke="#000" stroke-width="1.49" stroke-linecap="round"/>
<path d="M739.00,906.05 C738.59,909.82 737.87,914.77 737.15,918.14" fill="none" stroke="#000" stroke-width="2.77" stroke-linecap="round"/>
<path d="M748.75,904.27 C747.82,901.69 744.33,901.10 742.28,902.29 C740.84,903.18 739.82,904.67 739.00,906.65" fill="none" stroke="#000" stroke-width="1.33" stroke-linecap="round"/>
<path d="M737.46,916.95 C737.77,920.22 739.20,921.91 741.36,921.91 C744.33,921.91 747.41,919.33 748.95,915.57" fill="none" stroke="#000" stroke-width="1.33" stroke-linecap="round"/>
<circle cx="748.75" cy="904.47" r="2.10"/>
<circle cx="729.45" cy="919.23" r="2.10"/>
<g style="filter:opacity(1)"><text transform="translate(753.39,929.20) scale(1.0041,1)" font-family="Liberation Serif" font-style="normal" font-weight="normal" font-size="34.28" fill="#000">2</text></g>
<path d="M1202.35,908.23 C1203.48,903.87 1206.56,901.49 1208.81,901.69 C1211.28,901.89 1212.51,904.27 1211.99,907.44 C1211.38,911.80 1210.66,916.75 1209.84,918.93 C1208.61,921.91 1205.12,922.30 1203.07,920.32" fill="none" stroke="#000" stroke-width="1.49" stroke-linecap="round"/>
<path d="M1212.10,906.05 C1211.69,909.82 1210.97,914.77 1210.25,918.14" fill="none" stroke="#000" stroke-width="2.77" stroke-linecap="round"/>
<path d="M1221.85,904.27 C1220.92,901.69 1217.43,901.10 1215.38,902.29 C1213.94,903.18 1212.92,904.67 1212.10,906.65" fill="none" stroke="#000" stroke-width="1.33" stroke-linecap="round"/>
<path d="M1210.56,916.95 C1210.87,920.22 1212.30,921.91 1214.46,921.91 C1217.43,921.91 1220.51,919.33 1222.05,915.57" fill="none" stroke="#000" stroke-width="1.33" stroke-linecap="round"/>
<circle cx="1221.85" cy="904.47" r="2.10"/>
<circle cx="1202.55" cy="919.23" r="2.10"/>
<g style="filter:opacity(1)"><text transform="translate(1226.40,929.17) scale(0.9976,1)" font-family="Liberation Serif" font-style="normal" font-weight="normal" font-size="33.49" fill="#000">3</text></g>
<g style="filter:opacity(1)"><text transform="translate(711.50,986.00) scale(0.9330,1)" font-family="Liberation Sans" font-style="normal" font-weight="bold" font-size="54.51" fill="#000">F</text></g>
<g style="filter:opacity(1)"><text transform="translate(741.43,986.00) scale(1.0967,1)" font-family="Liberation Sans" font-style="normal" font-weight="bold" font-size="48.27" fill="#000">eature</text></g>
<g style="filter:opacity(1)"><text transform="translate(920.09,986.00) scale(1.0104,1)" font-family="Liberation Sans" font-style="normal" font-weight="bold" font-size="48.27" fill="#000">space</text></g>
<g style="filter:opacity(1)"><text transform="translate(71.40,597.99) rotate(-90) scale(0.8501,1)" font-family="Liberation Sans" font-style="normal" font-weight="bold" font-size="47.38" fill="#000">E</text></g>
<g style="filter:opacity(1)"><text transform="translate(71.20,568.00) rotate(-90) scale(1.0908,1)" font-family="Liberation Sans" font-style="normal" font-weight="bold" font-size="40.88" fill="#000">xpected</text></g>
<g style="filter:opacity(1)"><text transform="translate(71.20,381.58) rotate(-90) scale(1.0531,1)" font-family="Liberation Sans" font-style="normal" font-weight="bold" font-size="41.45" fill="#000">reward</text></g>
<g stroke-width="5.2" fill="none">
<path d="M1300.1,63.5 L1386,63.5" stroke="#008000"/>
<path d="M1300.1,121.8 L1386,121.8" stroke="#808080"/>
<path d="M1300.1,180.5 L1386,180.5" stroke="#800080"/>
</g>
<path d="M1343,51.3 L1355.1,75.1 L1330.9,75.1 Z" fill="#008000"/>
<circle cx="1343" cy="121.8" r="10.7" fill="#808080"/>
<rect x="1332.2" y="169.5" width="22" height="22" fill="#800080"/>
<g style="filter:opacity(1)"><text transform="translate(1414.83,78.30) scale(0.9382,1)" font-family="Liberation Sans" font-style="normal" font-weight="normal" font-size="40.99" fill="#000">UCB</text></g>
<g style="filter:opacity(1)"><text transform="translate(1416.24,136.00) scale(0.9413,1)" font-family="Liberation Sans" font-style="normal" font-weight="normal" font-size="40.84" fill="#000">TS</text></g>
<path d="M1495.4,106.6 L1481.9,145.2" stroke="#000" stroke-width="2.0" stroke-linecap="butt"/>
<g style="filter:opacity(1)"><text transform="translate(1512.27,136.00) scale(0.9331,1)" font-family="Liberation Sans" font-style="normal" font-weight="normal" font-size="40.84" fill="#000">PHE</text></g>
<g style="filter:opacity(1)"><text transform="translate(1416.30,194.90) scale(0.8753,1)" font-family="Liberation Sans" font-style="normal" font-weight="normal" font-size="40.41" fill="#000">R</text></g>
<g style="filter:opacity(1)"><text transform="translate(1441.68,194.90) scale(1.0223,1)" font-family="Liberation Sans" font-style="normal" font-weight="normal" font-size="35.02" fill="#000">and</text></g>
<g style="filter:opacity(1)"><text transform="translate(1503.19,194.90) scale(0.9330,1)" font-family="Liberation Sans" font-style="normal" font-weight="normal" font-size="40.41" fill="#000">UCB</text></g>
<path d="M1952.1,821.5 L1954.1,821.2 L1956.2,820.9 L1958.2,820.5 L1960.2,820.1 L1962.2,819.7 L1964.3,819.2 L1966.3,818.7 L1968.3,818.1 L1970.3,817.5 L1972.4,816.9 L1974.4,816.2 L1976.4,815.5 L1978.4,814.7 L1980.4,813.8 L1982.5,812.9 L1984.5,811.9 L1986.5,810.9 L1988.5,809.8 L1990.6,808.6 L1992.6,807.4 L1994.6,806.1 L1996.6,804.8 L1998.7,803.4 L2000.7,801.9 L2002.7,800.4 L2004.7,798.8 L2006.7,797.1 L2008.8,795.4 L2010.8,793.7 L2012.8,791.9 L2014.8,790.1 L2016.9,788.2 L2018.9,786.3 L2020.9,784.4 L2022.9,782.5 L2025.0,780.5 L2027.0,778.6 L2029.0,776.6 L2031.0,774.7 L2033.0,772.8 L2035.1,770.9 L2037.1,769.0 L2039.1,767.2 L2041.1,765.4 L2043.2,763.7 L2045.2,762.1 L2047.2,760.6 L2049.2,759.1 L2051.3,757.7 L2053.3,756.4 L2055.3,755.3 L2057.3,754.2 L2059.3,753.3 L2061.4,752.4 L2063.4,751.8 L2065.4,751.2 L2067.4,750.8 L2069.5,750.5 L2071.5,750.4 L2073.5,750.4 L2075.5,750.5 L2077.6,750.8 L2079.6,751.2 L2081.6,751.8 L2083.6,752.4 L2085.7,753.3 L2087.7,754.2 L2089.7,755.3 L2091.7,756.4 L2093.7,757.7 L2095.8,759.1 L2097.8,760.6 L2099.8,762.1 L2101.8,763.7 L2103.9,765.4 L2105.9,767.2 L2107.9,769.0 L2109.9,770.9 L2112.0,772.8 L2114.0,774.7 L2116.0,776.6 L2118.0,778.6 L2120.0,780.5 L2122.1,782.5 L2124.1,784.4 L2126.1,786.3 L2128.1,788.2 L2130.2,790.1 L2132.2,791.9 L2134.2,793.7 L2136.2,795.4 L2138.3,797.1 L2140.3,798.8 L2142.3,800.4 L2144.3,801.9 L2146.3,803.4 L2148.4,804.8 L2150.4,806.1 L2152.4,807.4 L2154.4,808.6 L2156.5,809.8 L2158.5,810.9 L2160.5,811.9 L2162.5,812.9 L2164.6,813.8 L2166.6,814.7 L2168.6,815.5 L2170.6,816.2 L2172.6,816.9 L2174.7,817.5 L2176.7,818.1 L2178.7,818.7 L2180.7,819.2 L2182.8,819.7 L2184.8,820.1 L2186.8,820.5 L2188.8,820.9 L2190.9,821.2 L2192.9,821.5" stroke="#f7aeae" stroke-width="5.3" fill="none" stroke-linecap="butt"/>
<path d="M2206.9,819.6 L2208.0,819.0 L2209.2,818.5 L2210.3,817.8 L2211.5,817.1 L2212.6,816.4 L2213.7,815.5 L2214.9,814.6 L2216.0,813.7 L2217.2,812.6 L2218.3,811.5 L2219.5,810.2 L2220.6,808.9 L2221.8,807.5 L2222.9,806.0 L2224.1,804.3 L2225.2,802.6 L2226.3,800.8 L2227.5,798.9 L2228.6,796.8 L2229.8,794.7 L2230.9,792.4 L2232.1,790.0 L2233.2,787.5 L2234.4,784.9 L2235.5,782.2 L2236.6,779.4 L2237.8,776.5 L2238.9,773.5 L2240.1,770.5 L2241.2,767.3 L2242.4,764.1 L2243.5,760.8 L2244.7,757.4 L2245.8,754.0 L2247.0,750.6 L2248.1,747.2 L2249.2,743.7 L2250.4,740.3 L2251.5,736.9 L2252.7,733.5 L2253.8,730.1 L2255.0,726.8 L2256.1,723.6 L2257.3,720.5 L2258.4,717.5 L2259.5,714.6 L2260.7,711.9 L2261.8,709.3 L2263.0,706.9 L2264.1,704.6 L2265.3,702.5 L2266.4,700.7 L2267.6,699.0 L2268.7,697.6 L2269.8,696.3 L2271.0,695.4 L2272.1,694.6 L2273.3,694.1 L2274.4,693.9 L2275.6,693.9 L2276.7,694.1 L2277.9,694.6 L2279.0,695.4 L2280.2,696.3 L2281.3,697.6 L2282.4,699.0 L2283.6,700.7 L2284.7,702.5 L2285.9,704.6 L2287.0,706.9 L2288.2,709.3 L2289.3,711.9 L2290.5,714.6 L2291.6,717.5 L2292.7,720.5 L2293.9,723.6 L2295.0,726.8 L2296.2,730.1 L2297.3,733.5 L2298.5,736.9 L2299.6,740.3 L2300.8,743.7 L2301.9,747.2 L2303.0,750.6 L2304.2,754.0 L2305.3,757.4 L2306.5,760.8 L2307.6,764.1 L2308.8,767.3 L2309.9,770.5 L2311.1,773.5 L2312.2,776.5 L2313.4,779.4 L2314.5,782.2 L2315.6,784.9 L2316.8,787.5 L2317.9,790.0 L2319.1,792.4 L2320.2,794.7 L2321.4,796.8 L2322.5,798.9 L2323.7,800.8 L2324.8,802.6 L2325.9,804.3 L2327.1,806.0 L2328.2,807.5 L2329.4,808.9 L2330.5,810.2 L2331.7,811.5 L2332.8,812.6 L2334.0,813.7 L2335.1,814.6 L2336.3,815.5 L2337.4,816.4 L2338.5,817.1 L2339.7,817.8 L2340.8,818.5 L2342.0,819.0 L2343.1,819.6" stroke="#f7aeae" stroke-width="5.3" fill="none" stroke-linecap="butt"/>
<path d="M2662.3,820.5 L2663.7,820.1 L2665.2,819.6 L2666.6,819.1 L2668.1,818.5 L2669.5,817.9 L2671.0,817.3 L2672.4,816.6 L2673.8,815.8 L2675.3,814.9 L2676.7,814.0 L2678.2,813.1 L2679.6,812.0 L2681.0,810.9 L2682.5,809.7 L2683.9,808.4 L2685.4,807.0 L2686.8,805.6 L2688.3,804.0 L2689.7,802.4 L2691.1,800.7 L2692.6,798.9 L2694.0,797.0 L2695.5,795.0 L2696.9,793.0 L2698.4,790.8 L2699.8,788.6 L2701.2,786.3 L2702.7,783.9 L2704.1,781.5 L2705.6,779.0 L2707.0,776.4 L2708.4,773.8 L2709.9,771.1 L2711.3,768.5 L2712.8,765.7 L2714.2,763.0 L2715.7,760.3 L2717.1,757.5 L2718.5,754.8 L2720.0,752.1 L2721.4,749.5 L2722.9,746.9 L2724.3,744.3 L2725.7,741.8 L2727.2,739.5 L2728.6,737.2 L2730.1,735.0 L2731.5,732.9 L2733.0,731.0 L2734.4,729.2 L2735.8,727.6 L2737.3,726.1 L2738.7,724.8 L2740.2,723.6 L2741.6,722.6 L2743.1,721.9 L2744.5,721.3 L2745.9,720.9 L2747.4,720.7 L2748.8,720.7 L2750.3,720.9 L2751.7,721.3 L2753.1,721.9 L2754.6,722.6 L2756.0,723.6 L2757.5,724.8 L2758.9,726.1 L2760.4,727.6 L2761.8,729.2 L2763.2,731.0 L2764.7,732.9 L2766.1,735.0 L2767.6,737.2 L2769.0,739.5 L2770.5,741.8 L2771.9,744.3 L2773.3,746.9 L2774.8,749.5 L2776.2,752.1 L2777.7,754.8 L2779.1,757.5 L2780.5,760.3 L2782.0,763.0 L2783.4,765.7 L2784.9,768.5 L2786.3,771.1 L2787.8,773.8 L2789.2,776.4 L2790.6,779.0 L2792.1,781.5 L2793.5,783.9 L2795.0,786.3 L2796.4,788.6 L2797.8,790.8 L2799.3,793.0 L2800.7,795.0 L2802.2,797.0 L2803.6,798.9 L2805.1,800.7 L2806.5,802.4 L2807.9,804.0 L2809.4,805.6 L2810.8,807.0 L2812.3,808.4 L2813.7,809.7 L2815.2,810.9 L2816.6,812.0 L2818.0,813.1 L2819.5,814.0 L2820.9,814.9 L2822.4,815.8 L2823.8,816.6 L2825.2,817.3 L2826.7,817.9 L2828.1,818.5 L2829.6,819.1 L2831.0,819.6 L2832.5,820.1 L2833.9,820.5" stroke="#f7aeae" stroke-width="5.3" fill="none" stroke-linecap="butt"/>
<path d="M2072.5,823.8 L2072.5,246.1" stroke="#6e6e6e" stroke-width="1.9" stroke-dasharray="6.5,3.1" fill="none"/>
<path d="M2275.0,823.8 L2275.0,376.6" stroke="#6e6e6e" stroke-width="1.9" stroke-dasharray="6.5,3.1" fill="none"/>
<path d="M2748.1,823.8 L2748.1,515.2" stroke="#6e6e6e" stroke-width="1.9" stroke-dasharray="6.5,3.1" fill="none"/>
<path d="M1732.1,817.3 L1734.1,817.0 L1736.1,816.7 L1738.1,816.4 L1740.1,816.0 L1742.1,815.7 L1744.1,815.3 L1746.1,814.9 L1748.1,814.5 L1750.1,814.1 L1752.1,813.6 L1754.1,813.2 L1756.1,812.7 L1758.1,812.2 L1760.1,811.7 L1762.1,811.2 L1764.1,810.7 L1766.1,810.1 L1768.1,809.5 L1770.1,808.9 L1772.1,808.3 L1774.1,807.6 L1776.1,807.0 L1778.1,806.3 L1780.1,805.5 L1782.1,804.8 L1784.1,804.0 L1786.1,803.2 L1788.1,802.4 L1790.1,801.6 L1792.1,800.7 L1794.1,799.8 L1796.1,798.8 L1798.1,797.9 L1800.1,796.9 L1802.1,795.8 L1804.1,794.8 L1806.1,793.7 L1808.1,792.5 L1810.1,791.4 L1812.1,790.2 L1814.1,788.9 L1816.1,787.6 L1818.1,786.3 L1820.1,785.0 L1822.1,783.6 L1824.1,782.1 L1826.1,780.7 L1828.1,779.1 L1830.1,777.6 L1832.1,776.0 L1834.1,774.3 L1836.1,772.6 L1838.1,770.9 L1840.1,769.1 L1842.1,767.3 L1844.1,765.4 L1846.1,763.4 L1848.1,761.5 L1850.1,759.4 L1852.1,757.3 L1854.1,755.2 L1856.1,753.0 L1858.1,750.8 L1860.1,748.5 L1862.1,746.1 L1864.1,743.7 L1866.1,741.2 L1868.1,738.7 L1870.1,736.1 L1872.1,733.5 L1874.1,730.8 L1876.1,728.0 L1878.1,725.2 L1880.1,722.4 L1882.1,719.4 L1884.1,716.4 L1886.1,713.4 L1888.1,710.2 L1890.1,707.1 L1892.1,703.8 L1894.1,700.5 L1896.1,697.1 L1898.1,693.7 L1900.1,690.2 L1902.1,686.6 L1904.1,683.0 L1906.1,679.3 L1908.1,675.5 L1910.1,671.7 L1912.1,667.8 L1914.1,663.9 L1916.1,659.9 L1918.1,655.8 L1920.1,651.7 L1922.1,647.5 L1924.1,643.2 L1926.1,638.9 L1928.1,634.5 L1930.1,630.0 L1932.1,625.5 L1934.1,620.9 L1936.1,616.3 L1938.1,611.6 L1940.1,606.9 L1942.1,602.1 L1944.1,597.2 L1946.1,592.3 L1948.1,587.3 L1950.1,582.3 L1952.1,577.2 L1954.1,572.1 L1956.1,566.9 L1958.1,561.6 L1960.1,556.4 L1962.1,551.0 L1964.1,545.7 L1966.1,540.2 L1968.1,534.8 L1970.1,529.3 L1972.1,523.7 L1974.1,518.2 L1976.1,512.6 L1978.1,506.9 L1980.1,501.2 L1982.1,495.5 L1984.1,489.8 L1986.1,484.0 L1988.1,478.3 L1990.1,472.5 L1992.1,466.6 L1994.1,460.8 L1996.1,454.9 L1998.1,449.1 L2000.1,443.2 L2002.1,437.3 L2004.1,431.4 L2006.1,425.5 L2008.1,419.6 L2010.1,413.7 L2012.1,407.8 L2014.1,401.9 L2016.1,396.1 L2018.1,390.2 L2020.1,384.4 L2022.1,378.5 L2024.1,372.7 L2026.1,366.9 L2028.1,361.2 L2030.1,355.5 L2032.1,349.8 L2034.1,344.1 L2036.1,338.5 L2038.1,332.9 L2040.1,327.4 L2042.1,321.9 L2044.1,316.4 L2046.1,311.0 L2048.1,305.7 L2050.1,300.4 L2052.1,295.2 L2054.1,290.1 L2056.1,285.0 L2058.1,279.9 L2060.1,275.0 L2062.1,270.1 L2064.1,265.3 L2066.1,260.6 L2068.1,256.0 L2070.1,251.4 L2072.1,247.0 L2074.1,242.6 L2076.1,238.3 L2078.1,234.1 L2080.1,230.1 L2082.1,226.1 L2084.1,222.2 L2086.1,218.4 L2088.1,214.7 L2090.1,211.2 L2092.1,207.7 L2094.1,204.4 L2096.1,201.2 L2098.1,198.1 L2100.1,195.1 L2102.1,192.2 L2104.1,189.4 L2106.1,186.8 L2108.1,184.3 L2110.1,181.9 L2112.1,179.7 L2114.1,177.6 L2116.1,175.6 L2118.1,173.7 L2120.1,172.0 L2122.1,170.4 L2124.1,168.9 L2126.1,167.6 L2128.1,166.4 L2130.1,165.3 L2132.1,164.4 L2134.1,163.6 L2136.1,163.0 L2138.1,162.5 L2140.1,162.1 L2142.1,161.8 L2144.1,161.7 L2146.1,161.7 L2148.1,161.9 L2150.1,162.2 L2152.1,162.6 L2154.1,163.2 L2156.1,163.9 L2158.1,164.7 L2160.1,165.7 L2162.1,166.8 L2164.1,168.0 L2166.1,169.4 L2168.1,170.8 L2170.1,172.5 L2172.1,174.2 L2174.1,176.0 L2176.1,178.0 L2178.1,180.1 L2180.1,182.3 L2182.1,184.6 L2184.1,187.1 L2186.1,189.6 L2188.1,192.3 L2190.1,195.1 L2192.1,197.9 L2194.1,200.9 L2196.1,204.0 L2198.1,207.2 L2200.1,210.4 L2202.1,213.8 L2204.1,217.3 L2206.1,220.8 L2208.1,224.5 L2210.1,228.2 L2212.1,232.0 L2214.1,235.9 L2216.1,239.8 L2218.1,243.9 L2220.1,248.0 L2222.1,252.1 L2224.1,256.4 L2226.1,260.6 L2228.1,265.0 L2230.1,269.4 L2232.1,273.9 L2234.1,278.4 L2236.1,282.9 L2238.1,287.5 L2240.1,292.2 L2242.1,296.8 L2244.1,301.6 L2246.1,306.3 L2248.1,311.1 L2250.1,315.9 L2252.1,320.7 L2254.1,325.5 L2256.1,330.4 L2258.1,335.3 L2260.1,340.1 L2262.1,345.0 L2264.1,349.9 L2266.1,354.8 L2268.1,359.7 L2270.1,364.6 L2272.1,369.5 L2274.1,374.4 L2276.1,379.2 L2278.1,384.1 L2280.1,388.9 L2282.1,393.8 L2284.1,398.6 L2286.1,403.3 L2288.1,408.1 L2290.1,412.8 L2292.1,417.5 L2294.1,422.1 L2296.1,426.8 L2298.1,431.4 L2300.1,435.9 L2302.1,440.4 L2304.1,444.9 L2306.1,449.3 L2308.1,453.7 L2310.1,458.0 L2312.1,462.2 L2314.1,466.5 L2316.1,470.6 L2318.1,474.7 L2320.1,478.8 L2322.1,482.8 L2324.1,486.7 L2326.1,490.6 L2328.1,494.4 L2330.1,498.1 L2332.1,501.8 L2334.1,505.4 L2336.1,509.0 L2338.1,512.5 L2340.1,515.9 L2342.1,519.2 L2344.1,522.5 L2346.1,525.7 L2348.1,528.9 L2350.1,531.9 L2352.1,534.9 L2354.1,537.8 L2356.1,540.7 L2358.1,543.4 L2360.1,546.1 L2362.1,548.8 L2364.1,551.3 L2366.1,553.8 L2368.1,556.2 L2370.1,558.5 L2372.1,560.8 L2374.1,563.0 L2376.1,565.1 L2378.1,567.1 L2380.1,569.1 L2382.1,570.9 L2384.1,572.8 L2386.1,574.5 L2388.1,576.2 L2390.1,577.7 L2392.1,579.3 L2394.1,580.7 L2396.1,582.1 L2398.1,583.4 L2400.1,584.7 L2402.1,585.8 L2404.1,586.9 L2406.1,588.0 L2408.1,588.9 L2410.1,589.8 L2412.1,590.7 L2414.1,591.4 L2416.1,592.2 L2418.1,592.8 L2420.1,593.4 L2422.1,593.9 L2424.1,594.4 L2426.1,594.8 L2428.1,595.1 L2430.1,595.4 L2432.1,595.7 L2434.1,595.8 L2436.1,596.0 L2438.1,596.0 L2440.1,596.0 L2442.1,596.0 L2444.1,595.9 L2446.1,595.8 L2448.1,595.6 L2450.1,595.4 L2452.1,595.1 L2454.1,594.8 L2456.1,594.4 L2458.1,594.0 L2460.1,593.6 L2462.1,593.1 L2464.1,592.6 L2466.1,592.0 L2468.1,591.4 L2470.1,590.8 L2472.1,590.1 L2474.1,589.4 L2476.1,588.7 L2478.1,587.9 L2480.1,587.1 L2482.1,586.3 L2484.1,585.4 L2486.1,584.5 L2488.1,583.6 L2490.1,582.7 L2492.1,581.7 L2494.1,580.7 L2496.1,579.7 L2498.1,578.7 L2500.1,577.6 L2502.1,576.6 L2504.1,575.5 L2506.1,574.4 L2508.1,573.3 L2510.1,572.1 L2512.1,571.0 L2514.1,569.8 L2516.1,568.7 L2518.1,567.5 L2520.1,566.3 L2522.1,565.1 L2524.1,563.9 L2526.1,562.7 L2528.1,561.4 L2530.1,560.2 L2532.1,559.0 L2534.1,557.7 L2536.1,556.5 L2538.1,555.2 L2540.1,554.0 L2542.1,552.8 L2544.1,551.5 L2546.1,550.3 L2548.1,549.0 L2550.1,547.8 L2552.1,546.5 L2554.1,545.3 L2556.1,544.1 L2558.1,542.9 L2560.1,541.6 L2562.1,540.4 L2564.1,539.2 L2566.1,538.0 L2568.1,536.8 L2570.1,535.7 L2572.1,534.5 L2574.1,533.3 L2576.1,532.2 L2578.1,531.1 L2580.1,530.0 L2582.1,528.8 L2584.1,527.8 L2586.1,526.7 L2588.1,525.6 L2590.1,524.6 L2592.1,523.5 L2594.1,522.5 L2596.1,521.5 L2598.1,520.5 L2600.1,519.6 L2602.1,518.6 L2604.1,517.7 L2606.1,516.8 L2608.1,515.9 L2610.1,515.0 L2612.1,514.1 L2614.1,513.3 L2616.1,512.5 L2618.1,511.7 L2620.1,510.9 L2622.1,510.2 L2624.1,509.5 L2626.1,508.8 L2628.1,508.1 L2630.1,507.4 L2632.1,506.8 L2634.1,506.2 L2636.1,505.6 L2638.1,505.1 L2640.1,504.5 L2642.1,504.0 L2644.1,503.5 L2646.1,503.1 L2648.1,502.6 L2650.1,502.2 L2652.1,501.9 L2654.1,501.5 L2656.1,501.2 L2658.1,500.9 L2660.1,500.6 L2662.1,500.3 L2664.1,500.1 L2666.1,499.9 L2668.1,499.8 L2670.1,499.6 L2672.1,499.5 L2674.1,499.4 L2676.1,499.3 L2678.1,499.3 L2680.1,499.3 L2682.1,499.3 L2684.1,499.4 L2686.1,499.4 L2688.1,499.6 L2690.1,499.7 L2692.1,499.8 L2694.1,500.0 L2696.1,500.2 L2698.1,500.5 L2700.1,500.8 L2702.1,501.0 L2704.1,501.4 L2706.1,501.7 L2708.1,502.1 L2710.1,502.5 L2712.1,502.9 L2714.1,503.4 L2716.1,503.9 L2718.1,504.4 L2720.1,504.9 L2722.1,505.5 L2724.1,506.1 L2726.1,506.7 L2728.1,507.4 L2730.1,508.0 L2732.1,508.7 L2734.1,509.4 L2736.1,510.2 L2738.1,511.0 L2740.1,511.8 L2742.1,512.6 L2744.1,513.4 L2746.1,514.3 L2748.1,515.2 L2750.1,516.1 L2752.1,517.1 L2754.1,518.0 L2756.1,519.0 L2758.1,520.0 L2760.1,521.1 L2762.1,522.1 L2764.1,523.2 L2766.1,524.3 L2768.1,525.4 L2770.1,526.6 L2772.1,527.8 L2774.1,528.9 L2776.1,530.2 L2778.1,531.4 L2780.1,532.6 L2782.1,533.9 L2784.1,535.2 L2786.1,536.5 L2788.1,537.8 L2790.1,539.2 L2792.1,540.5 L2794.1,541.9 L2796.1,543.3 L2798.1,544.7 L2800.1,546.2 L2802.1,547.6 L2804.1,549.1 L2806.1,550.6 L2808.1,552.1 L2810.1,553.6 L2812.1,555.1 L2814.1,556.7 L2816.1,558.2 L2818.1,559.8 L2820.1,561.4 L2822.1,563.0 L2824.1,564.6 L2826.1,566.2 L2828.1,567.8 L2830.1,569.5 L2832.1,571.2 L2834.1,572.8 L2836.1,574.5 L2838.1,576.2 L2840.1,577.9 L2842.1,579.6 L2844.1,581.3 L2846.1,583.1 L2848.1,584.8 L2850.1,586.5 L2852.1,588.3 L2854.1,590.0 L2856.1,591.8 L2858.1,593.6 L2860.1,595.4 L2862.1,597.2 L2864.1,598.9 L2866.1,600.7 L2868.1,602.5 L2870.1,604.3 L2872.1,606.2 L2874.1,608.0 L2876.1,609.8 L2878.1,611.6 L2880.1,613.4 L2882.1,615.3 L2884.1,617.1 L2886.1,618.9 L2888.1,620.7 L2890.1,622.6 L2892.1,624.4 L2894.1,626.2 L2896.1,628.1 L2898.1,629.9 L2900.1,631.7 L2902.1,633.6 L2904.1,635.4 L2906.1,637.2 L2908.1,639.1 L2910.1,640.9 L2912.1,642.7 L2914.1,644.5 L2916.1,646.4 L2918.1,648.2 L2920.1,650.0 L2922.1,651.8 L2924.1,653.6 L2926.1,655.4 L2928.1,657.2 L2930.1,659.0 L2932.1,660.8 L2934.1,662.6 L2936.1,664.3 L2938.1,666.1 L2940.1,667.9 L2942.1,669.6 L2944.1,671.4 L2946.1,673.1 L2948.1,674.8 L2950.1,676.6 L2952.1,678.3 L2954.1,680.0 L2956.1,681.7 L2958.1,683.4 L2960.1,685.1 L2962.1,686.8 L2964.1,688.5 L2966.1,690.1 L2968.1,691.8 L2970.1,693.4 L2972.1,695.1 L2974.1,696.7 L2976.1,698.3 L2978.1,699.9 L2980.1,701.5 L2982.1,703.1 L2984.1,704.7 L2986.1,706.3 L2988.1,707.8 L2990.1,709.4 L2992.1,710.9 L2994.1,712.4 L2996.1,713.9 L2998.1,715.4 L3000.1,716.9 L3002.1,718.4 L3004.1,719.9 L3006.1,721.3 L3008.1,722.8 L3010.1,724.2 L3012.1,725.6 L3014.1,727.0 L3016.1,728.4 L3018.1,729.8 L3020.1,731.2 L3022.1,732.6 L3024.1,733.9 L3026.1,735.3 L3028.1,736.6 L3030.1,737.9 L3032.1,739.2 L3034.1,740.5 L3036.1,741.8 L3038.1,743.0 L3040.1,744.3 L3042.1,745.5 L3044.1,746.7 L3046.1,748.0 L3048.1,749.2 L3050.1,750.3 L3052.1,751.5 L3054.1,752.7 L3056.1,753.8 L3058.1,755.0 L3060.1,756.1 L3062.1,757.2 L3064.1,758.3 L3066.1,759.4 L3068.1,760.5 L3070.1,761.5 L3072.1,762.6 L3074.1,763.6 L3076.1,764.7 L3078.1,765.7 L3080.1,766.7 L3082.1,767.7 L3084.1,768.6 L3086.1,769.6" stroke="#000" stroke-width="5.0" fill="none" stroke-linecap="butt" stroke-linejoin="round"/>
<path d="M2015.3,398.4 L2017.3,392.7 L2019.2,387.0 L2021.2,381.3 L2023.1,375.6 L2025.1,369.9 L2027.0,364.3 L2029.0,358.7 L2030.9,353.1 L2032.9,347.5 L2034.8,342.0 L2036.8,336.5 L2038.8,331.1 L2040.7,325.7 L2042.7,320.3 L2044.6,315.0 L2046.6,309.8 L2048.5,304.6 L2050.5,299.4 L2052.4,294.4 L2054.4,289.3 L2056.3,284.4 L2058.3,279.5 L2060.2,274.6 L2062.2,269.9 L2064.2,265.2 L2066.1,260.6 L2068.1,256.1 L2070.0,251.6 L2072.0,247.3 L2073.9,243.0 L2075.9,238.8 L2077.8,234.7 L2079.8,230.7 L2081.7,226.8 L2083.7,223.0 L2085.7,219.3 L2087.6,215.6 L2089.6,212.1 L2091.5,208.7 L2093.5,205.4 L2095.4,202.2 L2097.4,199.2 L2099.3,196.2 L2101.3,193.3 L2103.2,190.6 L2105.2,188.0 L2107.1,185.5 L2109.1,183.1 L2111.1,180.8 L2113.0,178.7 L2115.0,176.7 L2116.9,174.8 L2118.9,173.0 L2120.8,171.4 L2122.8,169.9 L2124.7,168.5 L2126.7,167.2 L2128.6,166.1 L2130.6,165.1" stroke="#ff0000" stroke-width="6.6" fill="none" stroke-linecap="butt" stroke-linejoin="round"/>
<path d="M2241.5,295.4 L2242.6,298.1 L2243.7,300.7 L2244.9,303.4 L2246.0,306.0 L2247.1,308.7 L2248.2,311.4 L2249.3,314.0 L2250.5,316.7 L2251.6,319.4 L2252.7,322.1 L2253.8,324.9 L2254.9,327.6 L2256.1,330.3 L2257.2,333.0 L2258.3,335.8 L2259.4,338.5 L2260.5,341.2 L2261.7,344.0 L2262.8,346.7 L2263.9,349.4 L2265.0,352.2 L2266.1,354.9 L2267.3,357.7 L2268.4,360.4 L2269.5,363.2 L2270.6,365.9 L2271.7,368.6 L2272.9,371.4 L2274.0,374.1 L2275.1,376.8 L2276.2,379.6 L2277.4,382.3 L2278.5,385.0 L2279.6,387.7 L2280.7,390.4 L2281.8,393.1 L2283.0,395.8 L2284.1,398.5 L2285.2,401.2 L2286.3,403.8 L2287.4,406.5 L2288.6,409.2 L2289.7,411.8 L2290.8,414.4 L2291.9,417.1 L2293.0,419.7 L2294.2,422.3 L2295.3,424.9 L2296.4,427.5 L2297.5,430.0 L2298.6,432.6 L2299.8,435.1 L2300.9,437.7 L2302.0,440.2 L2303.1,442.7 L2304.2,445.2 L2305.4,447.7 L2306.5,450.1 L2307.6,452.6" stroke="#ff0000" stroke-width="6.6" fill="none" stroke-linecap="butt" stroke-linejoin="round"/>
<path d="M2706.0,501.7 L2707.4,502.0 L2708.9,502.3 L2710.3,502.6 L2711.7,502.9 L2713.2,503.2 L2714.6,503.5 L2716.1,503.9 L2717.5,504.2 L2718.9,504.6 L2720.4,505.0 L2721.8,505.4 L2723.2,505.8 L2724.7,506.3 L2726.1,506.7 L2727.6,507.2 L2729.0,507.7 L2730.4,508.1 L2731.9,508.6 L2733.3,509.2 L2734.7,509.7 L2736.2,510.2 L2737.6,510.8 L2739.1,511.3 L2740.5,511.9 L2741.9,512.5 L2743.4,513.1 L2744.8,513.7 L2746.2,514.4 L2747.7,515.0 L2749.1,515.7 L2750.6,516.3 L2752.0,517.0 L2753.4,517.7 L2754.9,518.4 L2756.3,519.1 L2757.7,519.9 L2759.2,520.6 L2760.6,521.3 L2762.1,522.1 L2763.5,522.9 L2764.9,523.7 L2766.4,524.5 L2767.8,525.3 L2769.2,526.1 L2770.7,526.9 L2772.1,527.8 L2773.6,528.6 L2775.0,529.5 L2776.4,530.4 L2777.9,531.2 L2779.3,532.1 L2780.7,533.0 L2782.2,534.0 L2783.6,534.9 L2785.1,535.8 L2786.5,536.8 L2787.9,537.7 L2789.4,538.7 L2790.8,539.7" stroke="#ff0000" stroke-width="6.6" fill="none" stroke-linecap="butt" stroke-linejoin="round"/>
<path d="M2022.90,341.40 L2040.10,358.60 M2022.90,358.60 L2040.10,341.40" stroke="#0000ff" stroke-width="3.6" fill="none"/>
<path d="M2252.80,335.60 L2270.00,352.80 M2252.80,352.80 L2270.00,335.60" stroke="#0000ff" stroke-width="3.6" fill="none"/>
<path d="M2745.90,510.80 L2763.10,528.00 M2745.90,528.00 L2763.10,510.80" stroke="#0000ff" stroke-width="3.6" fill="none"/>
<path d="M1920.13,319.38 C1919.83,316.40 1915.71,315.70 1913.65,320.18 C1911.18,326.45 1907.06,347.36 1905.00,354.03 C1903.97,357.41 1902.63,359.10 1900.88,358.41" fill="none" stroke="#000" stroke-width="2.1" stroke-linecap="round"/>
<path d="M1912.93,322.97 C1910.87,328.94 1908.09,342.88 1906.03,351.34" fill="none" stroke="#000" stroke-width="2.73" stroke-linecap="round"/>
<circle cx="1920.13" cy="319.98" r="2.2"/>
<circle cx="1900.47" cy="355.82" r="2.3"/>
<path d="M1905.72,329.84 L1919.10,329.84" stroke="#000" stroke-width="1.5"/>
<path d="M1913.30,310.90 L1918.55,305.70 L1923.80,310.90" fill="none" stroke="#000" stroke-width="1.7" stroke-linejoin="miter" stroke-linecap="butt"/>
<path d="M1939.70,314.00 C1932.30,320.66 1929.00,329.23 1929.00,337.80 C1929.00,346.37 1932.30,354.94 1939.70,361.60 L1940.00,360.70 C1934.64,353.98 1931.60,345.89 1931.60,337.80 C1931.60,329.71 1934.64,321.62 1940.00,314.90 Z" fill="#000"/>
<path d="M1946.00,336.27 C1947.10,331.95 1950.10,329.59 1952.30,329.79 C1954.70,329.98 1955.90,332.34 1955.40,335.48 C1954.80,339.80 1954.10,344.71 1953.30,346.87 C1952.10,349.81 1948.70,350.21 1946.70,348.24" fill="none" stroke="#000" stroke-width="1.45" stroke-linecap="round"/>
<path d="M1955.50,334.11 C1955.10,337.84 1954.40,342.75 1953.70,346.08" fill="none" stroke="#000" stroke-width="2.70" stroke-linecap="round"/>
<path d="M1965.00,332.34 C1964.10,329.79 1960.70,329.20 1958.70,330.37 C1957.30,331.26 1956.30,332.73 1955.50,334.69" fill="none" stroke="#000" stroke-width="1.30" stroke-linecap="round"/>
<path d="M1954.00,344.91 C1954.30,348.15 1955.70,349.81 1957.80,349.81 C1960.70,349.81 1963.70,347.26 1965.20,343.53" fill="none" stroke="#000" stroke-width="1.30" stroke-linecap="round"/>
<circle cx="1965.00" cy="332.53" r="2.05"/>
<circle cx="1946.20" cy="347.16" r="2.05"/>
<path d="M1949.90,321.90 C1952.40,318.30 1954.80,318.70 1956.60,320.50 S1960.80,322.70 1963.30,319.10" fill="none" stroke="#000" stroke-width="2.0" stroke-linecap="round"/>
<g style="filter:opacity(1)"><text transform="translate(1969.23,356.60) scale(1.0468,1)" font-family="Liberation Serif" font-style="normal" font-weight="normal" font-size="31.20" fill="#000">1</text></g>
<path d="M1990.50,314.00 C1997.90,320.66 2001.20,329.23 2001.20,337.80 C2001.20,346.37 1997.90,354.94 1990.50,361.60 L1990.20,360.70 C1995.56,353.98 1998.60,345.89 1998.60,337.80 C1998.60,329.71 1995.56,321.62 1990.20,314.90 Z" fill="#000"/>
<path d="M2325.63,300.38 C2325.33,297.40 2321.21,296.70 2319.15,301.18 C2316.68,307.45 2312.56,328.36 2310.50,335.03 C2309.47,338.41 2308.13,340.10 2306.38,339.41" fill="none" stroke="#000" stroke-width="2.1" stroke-linecap="round"/>
<path d="M2318.43,303.97 C2316.37,309.94 2313.59,323.88 2311.53,332.34" fill="none" stroke="#000" stroke-width="2.73" stroke-linecap="round"/>
<circle cx="2325.63" cy="300.98" r="2.2"/>
<circle cx="2305.97" cy="336.82" r="2.3"/>
<path d="M2311.22,310.84 L2324.60,310.84" stroke="#000" stroke-width="1.5"/>
<path d="M2318.80,291.90 L2324.05,286.70 L2329.30,291.90" fill="none" stroke="#000" stroke-width="1.7" stroke-linejoin="miter" stroke-linecap="butt"/>
<path d="M2345.20,295.00 C2337.80,301.66 2334.50,310.23 2334.50,318.80 C2334.50,327.37 2337.80,335.94 2345.20,342.60 L2345.50,341.70 C2340.14,334.98 2337.10,326.89 2337.10,318.80 C2337.10,310.71 2340.14,302.62 2345.50,295.90 Z" fill="#000"/>
<path d="M2351.50,317.27 C2352.60,312.95 2355.60,310.59 2357.80,310.79 C2360.20,310.98 2361.40,313.34 2360.90,316.48 C2360.30,320.80 2359.60,325.71 2358.80,327.87 C2357.60,330.81 2354.20,331.21 2352.20,329.24" fill="none" stroke="#000" stroke-width="1.45" stroke-linecap="round"/>
<path d="M2361.00,315.11 C2360.60,318.84 2359.90,323.75 2359.20,327.08" fill="none" stroke="#000" stroke-width="2.70" stroke-linecap="round"/>
<path d="M2370.50,313.34 C2369.60,310.79 2366.20,310.20 2364.20,311.37 C2362.80,312.26 2361.80,313.73 2361.00,315.69" fill="none" stroke="#000" stroke-width="1.30" stroke-linecap="round"/>
<path d="M2359.50,325.91 C2359.80,329.15 2361.20,330.81 2363.30,330.81 C2366.20,330.81 2369.20,328.26 2370.70,324.53" fill="none" stroke="#000" stroke-width="1.30" stroke-linecap="round"/>
<circle cx="2370.50" cy="313.53" r="2.05"/>
<circle cx="2351.70" cy="328.16" r="2.05"/>
<path d="M2355.40,302.90 C2357.90,299.30 2360.30,299.70 2362.10,301.50 S2366.30,303.70 2368.80,300.10" fill="none" stroke="#000" stroke-width="2.0" stroke-linecap="round"/>
<g style="filter:opacity(1)"><text transform="translate(2375.12,337.60) scale(1.0824,1)" font-family="Liberation Serif" font-style="normal" font-weight="normal" font-size="31.11" fill="#000">2</text></g>
<path d="M2396.00,295.00 C2403.40,301.66 2406.70,310.23 2406.70,318.80 C2406.70,327.37 2403.40,335.94 2396.00,342.60 L2395.70,341.70 C2401.06,334.98 2404.10,326.89 2404.10,318.80 C2404.10,310.71 2401.06,302.62 2395.70,295.90 Z" fill="#000"/>
<path d="M2832.63,475.38 C2832.33,472.40 2828.21,471.70 2826.15,476.18 C2823.68,482.45 2819.56,503.36 2817.50,510.03 C2816.47,513.41 2815.13,515.10 2813.38,514.41" fill="none" stroke="#000" stroke-width="2.1" stroke-linecap="round"/>
<path d="M2825.43,478.97 C2823.37,484.94 2820.59,498.88 2818.53,507.34" fill="none" stroke="#000" stroke-width="2.73" stroke-linecap="round"/>
<circle cx="2832.63" cy="475.98" r="2.2"/>
<circle cx="2812.97" cy="511.82" r="2.3"/>
<path d="M2818.22,485.84 L2831.60,485.84" stroke="#000" stroke-width="1.5"/>
<path d="M2825.80,466.90 L2831.05,461.70 L2836.30,466.90" fill="none" stroke="#000" stroke-width="1.7" stroke-linejoin="miter" stroke-linecap="butt"/>
<path d="M2852.20,470.00 C2844.80,476.66 2841.50,485.23 2841.50,493.80 C2841.50,502.37 2844.80,510.94 2852.20,517.60 L2852.50,516.70 C2847.14,509.98 2844.10,501.89 2844.10,493.80 C2844.10,485.71 2847.14,477.62 2852.50,470.90 Z" fill="#000"/>
<path d="M2858.50,492.27 C2859.60,487.95 2862.60,485.59 2864.80,485.79 C2867.20,485.98 2868.40,488.34 2867.90,491.48 C2867.30,495.80 2866.60,500.71 2865.80,502.87 C2864.60,505.81 2861.20,506.21 2859.20,504.24" fill="none" stroke="#000" stroke-width="1.45" stroke-linecap="round"/>
<path d="M2868.00,490.11 C2867.60,493.84 2866.90,498.75 2866.20,502.08" fill="none" stroke="#000" stroke-width="2.70" stroke-linecap="round"/>
<path d="M2877.50,488.34 C2876.60,485.79 2873.20,485.20 2871.20,486.37 C2869.80,487.26 2868.80,488.73 2868.00,490.69" fill="none" stroke="#000" stroke-width="1.30" stroke-linecap="round"/>
<path d="M2866.50,500.91 C2866.80,504.15 2868.20,505.81 2870.30,505.81 C2873.20,505.81 2876.20,503.26 2877.70,499.53" fill="none" stroke="#000" stroke-width="1.30" stroke-linecap="round"/>
<circle cx="2877.50" cy="488.53" r="2.05"/>
<circle cx="2858.70" cy="503.16" r="2.05"/>
<path d="M2862.40,477.90 C2864.90,474.30 2867.30,474.70 2869.10,476.50 S2873.30,478.70 2875.80,475.10" fill="none" stroke="#000" stroke-width="2.0" stroke-linecap="round"/>
<g style="filter:opacity(1)"><text transform="translate(2882.04,513.29) scale(1.0456,1)" font-family="Liberation Serif" font-style="normal" font-weight="normal" font-size="31.26" fill="#000">3</text></g>
<path d="M2903.00,470.00 C2910.40,476.66 2913.70,485.23 2913.70,493.80 C2913.70,502.37 2910.40,510.94 2903.00,517.60 L2902.70,516.70 C2908.06,509.98 2911.10,501.89 2911.10,493.80 C2911.10,485.71 2908.06,477.62 2902.70,470.90 Z" fill="#000"/>
<path d="M1758.37,739.08 C1758.07,736.10 1754.02,735.40 1751.99,739.88 C1749.56,746.15 1745.51,767.06 1743.48,773.73 C1742.47,777.11 1741.15,778.80 1739.43,778.11" fill="none" stroke="#000" stroke-width="2.1" stroke-linecap="round"/>
<path d="M1751.28,742.67 C1749.26,748.64 1746.52,762.58 1744.50,771.04" fill="none" stroke="#000" stroke-width="2.73" stroke-linecap="round"/>
<circle cx="1758.37" cy="739.68" r="2.2"/>
<circle cx="1739.03" cy="775.52" r="2.3"/>
<path d="M1744.19,749.54 L1757.36,749.54" stroke="#000" stroke-width="1.5"/>
<path d="M1751.20,731.20 L1756.55,725.90 L1761.90,731.20" fill="none" stroke="#000" stroke-width="1.7" stroke-linejoin="miter" stroke-linecap="butt"/>
<g style="filter:opacity(1)"><text transform="translate(1757.00,777.85) scale(1.0837,1)" font-family="Liberation Serif" font-style="italic" font-weight="normal" font-size="35.62" fill="#000">t</text></g>
<path d="M2053.25,908.23 C2054.38,903.87 2057.46,901.49 2059.71,901.69 C2062.18,901.89 2063.41,904.27 2062.89,907.44 C2062.28,911.80 2061.56,916.75 2060.74,918.93 C2059.51,921.91 2056.02,922.30 2053.97,920.32" fill="none" stroke="#000" stroke-width="1.49" stroke-linecap="round"/>
<path d="M2063.00,906.05 C2062.59,909.82 2061.87,914.77 2061.15,918.14" fill="none" stroke="#000" stroke-width="2.77" stroke-linecap="round"/>
<path d="M2072.75,904.27 C2071.82,901.69 2068.33,901.10 2066.28,902.29 C2064.84,903.18 2063.82,904.67 2063.00,906.65" fill="none" stroke="#000" stroke-width="1.33" stroke-linecap="round"/>
<path d="M2061.46,916.95 C2061.77,920.22 2063.20,921.91 2065.36,921.91 C2068.33,921.91 2071.41,919.33 2072.95,915.57" fill="none" stroke="#000" stroke-width="1.33" stroke-linecap="round"/>
<circle cx="2072.75" cy="904.47" r="2.10"/>
<circle cx="2053.45" cy="919.23" r="2.10"/>
<g style="filter:opacity(1)"><text transform="translate(2076.95,929.20) scale(0.9748,1)" font-family="Liberation Serif" font-style="normal" font-weight="normal" font-size="34.39" fill="#000">1</text></g>
<path d="M2255.75,908.23 C2256.88,903.87 2259.96,901.49 2262.21,901.69 C2264.68,901.89 2265.91,904.27 2265.39,907.44 C2264.78,911.80 2264.06,916.75 2263.24,918.93 C2262.01,921.91 2258.52,922.30 2256.47,920.32" fill="none" stroke="#000" stroke-width="1.49" stroke-linecap="round"/>
<path d="M2265.50,906.05 C2265.09,909.82 2264.37,914.77 2263.65,918.14" fill="none" stroke="#000" stroke-width="2.77" stroke-linecap="round"/>
<path d="M2275.25,904.27 C2274.32,901.69 2270.83,901.10 2268.78,902.29 C2267.34,903.18 2266.32,904.67 2265.50,906.65" fill="none" stroke="#000" stroke-width="1.33" stroke-linecap="round"/>
<path d="M2263.96,916.95 C2264.27,920.22 2265.70,921.91 2267.86,921.91 C2270.83,921.91 2273.91,919.33 2275.45,915.57" fill="none" stroke="#000" stroke-width="1.33" stroke-linecap="round"/>
<circle cx="2275.25" cy="904.47" r="2.10"/>
<circle cx="2255.95" cy="919.23" r="2.10"/>
<g style="filter:opacity(1)"><text transform="translate(2279.89,929.20) scale(1.0041,1)" font-family="Liberation Serif" font-style="normal" font-weight="normal" font-size="34.28" fill="#000">2</text></g>
<path d="M2728.85,908.23 C2729.98,903.87 2733.06,901.49 2735.31,901.69 C2737.78,901.89 2739.01,904.27 2738.49,907.44 C2737.88,911.80 2737.16,916.75 2736.34,918.93 C2735.11,921.91 2731.62,922.30 2729.57,920.32" fill="none" stroke="#000" stroke-width="1.49" stroke-linecap="round"/>
<path d="M2738.60,906.05 C2738.19,909.82 2737.47,914.77 2736.75,918.14" fill="none" stroke="#000" stroke-width="2.77" stroke-linecap="round"/>
<path d="M2748.35,904.27 C2747.42,901.69 2743.93,901.10 2741.88,902.29 C2740.44,903.18 2739.42,904.67 2738.60,906.65" fill="none" stroke="#000" stroke-width="1.33" stroke-linecap="round"/>
<path d="M2737.06,916.95 C2737.37,920.22 2738.80,921.91 2740.96,921.91 C2743.93,921.91 2747.01,919.33 2748.55,915.57" fill="none" stroke="#000" stroke-width="1.33" stroke-linecap="round"/>
<circle cx="2748.35" cy="904.47" r="2.10"/>
<circle cx="2729.05" cy="919.23" r="2.10"/>
<g style="filter:opacity(1)"><text transform="translate(2752.90,929.17) scale(0.9976,1)" font-family="Liberation Serif" font-style="normal" font-weight="normal" font-size="33.49" fill="#000">3</text></g>
<g style="filter:opacity(1)"><text transform="translate(2237.60,986.00) scale(0.9330,1)" font-family="Liberation Sans" font-style="normal" font-weight="bold" font-size="54.51" fill="#000">F</text></g>
<g style="filter:opacity(1)"><text transform="translate(2267.53,986.00) scale(1.0967,1)" font-family="Liberation Sans" font-style="normal" font-weight="bold" font-size="48.27" fill="#000">eature</text></g>
<g style="filter:opacity(1)"><text transform="translate(2446.19,986.00) scale(1.0104,1)" font-family="Liberation Sans" font-style="normal" font-weight="bold" font-size="48.27" fill="#000">space</text></g>
<path d="M2952.7,63.8 L3038.8,63.8" stroke="#0000ff" stroke-width="5.2" fill="none"/>
<path d="M2987.20,55.00 L3004.40,72.20 M2987.20,72.20 L3004.40,55.00" stroke="#0000ff" stroke-width="3.6" fill="none"/>
<g style="filter:opacity(1)"><text transform="translate(3068.93,78.00) scale(0.9200,1)" font-family="Liberation Sans" font-style="normal" font-weight="normal" font-size="40.70" fill="#000">FP</text></g>
</svg></body></html>
